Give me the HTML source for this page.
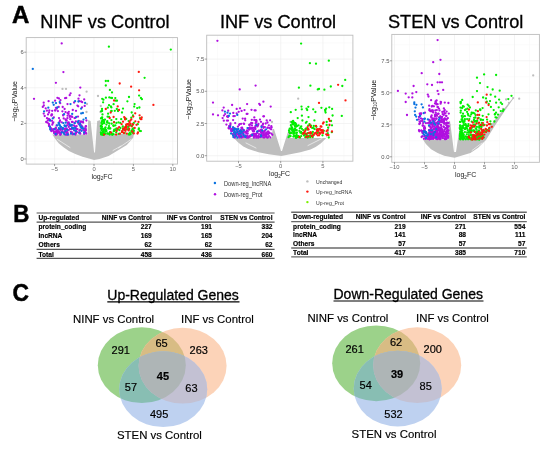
<!DOCTYPE html>
<html><head><meta charset="utf-8"><style>
html,body{margin:0;padding:0;background:#fff;width:550px;height:449px;overflow:hidden}
svg{display:block;font-family:"Liberation Sans", sans-serif;will-change:transform}
</style></head><body>
<svg width="550" height="449" viewBox="0 0 550 449">
<rect width="550" height="449" fill="#fff"/>
<text x="12.00" y="23.20" font-size="24" text-anchor="start" font-weight="bold" fill="#000" stroke="#000" stroke-width="0.5">A</text>
<text x="40.30" y="27.80" font-size="18.2" text-anchor="start" font-weight="normal" fill="#000" stroke="#000" stroke-width="0.3">NINF vs Control</text>
<text x="219.90" y="27.80" font-size="18.2" text-anchor="start" font-weight="normal" fill="#000" stroke="#000" stroke-width="0.3">INF vs Control</text>
<text x="387.90" y="27.80" font-size="18.2" text-anchor="start" font-weight="normal" fill="#000" stroke="#000" stroke-width="0.3">STEN vs Control</text>
<line x1="34.90" y1="37.6" x2="34.90" y2="164.1" stroke="#f6f6f6" stroke-width="0.6"/>
<line x1="74.30" y1="37.6" x2="74.30" y2="164.1" stroke="#f6f6f6" stroke-width="0.6"/>
<line x1="113.70" y1="37.6" x2="113.70" y2="164.1" stroke="#f6f6f6" stroke-width="0.6"/>
<line x1="153.10" y1="37.6" x2="153.10" y2="164.1" stroke="#f6f6f6" stroke-width="0.6"/>
<line x1="26.2" y1="141.20" x2="177.5" y2="141.20" stroke="#f6f6f6" stroke-width="0.6"/>
<line x1="26.2" y1="105.60" x2="177.5" y2="105.60" stroke="#f6f6f6" stroke-width="0.6"/>
<line x1="26.2" y1="70.00" x2="177.5" y2="70.00" stroke="#f6f6f6" stroke-width="0.6"/>
<line x1="54.60" y1="37.6" x2="54.60" y2="164.1" stroke="#efefef" stroke-width="0.7"/>
<line x1="94.00" y1="37.6" x2="94.00" y2="164.1" stroke="#efefef" stroke-width="0.7"/>
<line x1="133.40" y1="37.6" x2="133.40" y2="164.1" stroke="#efefef" stroke-width="0.7"/>
<line x1="172.80" y1="37.6" x2="172.80" y2="164.1" stroke="#efefef" stroke-width="0.7"/>
<line x1="26.2" y1="159.00" x2="177.5" y2="159.00" stroke="#efefef" stroke-width="0.7"/>
<line x1="26.2" y1="123.40" x2="177.5" y2="123.40" stroke="#efefef" stroke-width="0.7"/>
<line x1="26.2" y1="87.80" x2="177.5" y2="87.80" stroke="#efefef" stroke-width="0.7"/>
<line x1="26.2" y1="52.20" x2="177.5" y2="52.20" stroke="#efefef" stroke-width="0.7"/>
<line x1="217.40" y1="35.2" x2="217.40" y2="161.2" stroke="#f6f6f6" stroke-width="0.6"/>
<line x1="259.60" y1="35.2" x2="259.60" y2="161.2" stroke="#f6f6f6" stroke-width="0.6"/>
<line x1="301.80" y1="35.2" x2="301.80" y2="161.2" stroke="#f6f6f6" stroke-width="0.6"/>
<line x1="344.00" y1="35.2" x2="344.00" y2="161.2" stroke="#f6f6f6" stroke-width="0.6"/>
<line x1="206.7" y1="139.60" x2="352.9" y2="139.60" stroke="#f6f6f6" stroke-width="0.6"/>
<line x1="206.7" y1="107.40" x2="352.9" y2="107.40" stroke="#f6f6f6" stroke-width="0.6"/>
<line x1="206.7" y1="75.20" x2="352.9" y2="75.20" stroke="#f6f6f6" stroke-width="0.6"/>
<line x1="206.7" y1="43.00" x2="352.9" y2="43.00" stroke="#f6f6f6" stroke-width="0.6"/>
<line x1="238.50" y1="35.2" x2="238.50" y2="161.2" stroke="#efefef" stroke-width="0.7"/>
<line x1="280.70" y1="35.2" x2="280.70" y2="161.2" stroke="#efefef" stroke-width="0.7"/>
<line x1="322.90" y1="35.2" x2="322.90" y2="161.2" stroke="#efefef" stroke-width="0.7"/>
<line x1="206.7" y1="155.70" x2="352.9" y2="155.70" stroke="#efefef" stroke-width="0.7"/>
<line x1="206.7" y1="123.50" x2="352.9" y2="123.50" stroke="#efefef" stroke-width="0.7"/>
<line x1="206.7" y1="91.30" x2="352.9" y2="91.30" stroke="#efefef" stroke-width="0.7"/>
<line x1="206.7" y1="59.10" x2="352.9" y2="59.10" stroke="#efefef" stroke-width="0.7"/>
<line x1="409.50" y1="34.4" x2="409.50" y2="162.3" stroke="#f6f6f6" stroke-width="0.6"/>
<line x1="439.50" y1="34.4" x2="439.50" y2="162.3" stroke="#f6f6f6" stroke-width="0.6"/>
<line x1="469.50" y1="34.4" x2="469.50" y2="162.3" stroke="#f6f6f6" stroke-width="0.6"/>
<line x1="499.50" y1="34.4" x2="499.50" y2="162.3" stroke="#f6f6f6" stroke-width="0.6"/>
<line x1="529.50" y1="34.4" x2="529.50" y2="162.3" stroke="#f6f6f6" stroke-width="0.6"/>
<line x1="391.8" y1="140.80" x2="539.4" y2="140.80" stroke="#f6f6f6" stroke-width="0.6"/>
<line x1="391.8" y1="108.80" x2="539.4" y2="108.80" stroke="#f6f6f6" stroke-width="0.6"/>
<line x1="391.8" y1="76.80" x2="539.4" y2="76.80" stroke="#f6f6f6" stroke-width="0.6"/>
<line x1="391.8" y1="44.80" x2="539.4" y2="44.80" stroke="#f6f6f6" stroke-width="0.6"/>
<line x1="394.50" y1="34.4" x2="394.50" y2="162.3" stroke="#efefef" stroke-width="0.7"/>
<line x1="424.50" y1="34.4" x2="424.50" y2="162.3" stroke="#efefef" stroke-width="0.7"/>
<line x1="454.50" y1="34.4" x2="454.50" y2="162.3" stroke="#efefef" stroke-width="0.7"/>
<line x1="484.50" y1="34.4" x2="484.50" y2="162.3" stroke="#efefef" stroke-width="0.7"/>
<line x1="514.50" y1="34.4" x2="514.50" y2="162.3" stroke="#efefef" stroke-width="0.7"/>
<line x1="391.8" y1="156.80" x2="539.4" y2="156.80" stroke="#efefef" stroke-width="0.7"/>
<line x1="391.8" y1="124.80" x2="539.4" y2="124.80" stroke="#efefef" stroke-width="0.7"/>
<line x1="391.8" y1="92.80" x2="539.4" y2="92.80" stroke="#efefef" stroke-width="0.7"/>
<line x1="391.8" y1="60.80" x2="539.4" y2="60.80" stroke="#efefef" stroke-width="0.7"/>
<path fill="#bebebe" d="M52.3,134.5 L87.5,134.5 L88.2,120 L90.6,121 L94.1,152.5 L95,152.5 L97.2,121 L100.5,120 L101,134 L134,134 L133.2,137.7 L126.8,145 L117.7,150.5 L108.6,155.9 L99.5,159 L94.1,160 L88.9,158.6 L82.5,156.8 L75.3,154.1 L68.9,150.9 L63.5,147.3 L58.9,143.6 L55.3,139.1 Z"/>
<path fill="#bebebe" d="M232.6,138 L272,138 L272.5,129 L274,129 L281,151 L282,151 L289,128.5 L290.5,128.5 L290.5,138 L326,138 L328,128 L330,122 L328.5,134 L325.8,138.5 L320.7,143.5 L315.6,147 L310.5,149.5 L300.4,152.2 L290.2,154.3 L281.3,156 L268.7,154.2 L258.5,152.2 L248.4,149.1 L243.3,146.6 L238.2,142.4 L234.1,138.3 Z"/>
<path fill="#bebebe" d="M423,139.5 L448.5,139.5 L449,121 L450,121 L454,152 L456,152 L460,125 L461,125 L461,139.5 L479,139.5 L512.5,98.5 L513.5,98.5 L505,110.5 L495,125.5 L486,140 L478.2,147.7 L470.4,152.9 L461.2,155.8 L454.6,157.8 L444.2,155.8 L437.6,153.1 L431.1,149.2 L425.9,144 Z"/>
<g stroke="#fff" stroke-width="0.8" stroke-opacity="0.75" stroke-linecap="round"><line x1="118.5" y1="148" x2="131" y2="139.5"/><line x1="113" y1="150.5" x2="121" y2="146"/><line x1="57.5" y1="139.5" x2="70" y2="147.5"/><line x1="308" y1="145.5" x2="322" y2="138.5"/><line x1="246" y1="143" x2="256" y2="148"/><line x1="472" y1="150.5" x2="482" y2="143"/></g>
<g fill="#bebebe"><circle cx="62.5" cy="88.9" r="1.15"/><circle cx="66.0" cy="88.9" r="1.15"/><circle cx="86.6" cy="91.7" r="1.15"/><circle cx="87.0" cy="104.0" r="1.15"/><circle cx="86.5" cy="112.0" r="1.15"/><circle cx="100.8" cy="106.0" r="1.15"/><circle cx="100.5" cy="112.0" r="1.15"/><circle cx="98.0" cy="96.0" r="1.15"/></g>
<g fill="#b010e0"><circle cx="63.4" cy="72.1" r="1.15"/><circle cx="55.9" cy="82.8" r="1.15"/><circle cx="34.0" cy="98.8" r="1.15"/><circle cx="80.3" cy="87.6" r="1.15"/><circle cx="61.7" cy="43.4" r="1.15"/><circle cx="55.8" cy="128.5" r="1.15"/><circle cx="70.8" cy="131.8" r="1.15"/><circle cx="65.5" cy="119.5" r="1.15"/><circle cx="43.7" cy="113.6" r="1.15"/><circle cx="60.4" cy="100.2" r="1.15"/><circle cx="69.7" cy="95.2" r="1.15"/><circle cx="67.4" cy="118.2" r="1.15"/><circle cx="85.7" cy="132.9" r="1.15"/><circle cx="80.3" cy="122.7" r="1.15"/><circle cx="55.1" cy="100.7" r="1.15"/><circle cx="49.3" cy="110.5" r="1.15"/><circle cx="70.3" cy="119.2" r="1.15"/><circle cx="66.1" cy="132.2" r="1.15"/><circle cx="72.2" cy="116.9" r="1.15"/><circle cx="55.4" cy="110.3" r="1.15"/><circle cx="61.8" cy="122.3" r="1.15"/><circle cx="77.4" cy="105.6" r="1.15"/><circle cx="52.2" cy="110.8" r="1.15"/><circle cx="65.1" cy="98.2" r="1.15"/><circle cx="74.4" cy="122.8" r="1.15"/><circle cx="85.9" cy="129.9" r="1.15"/><circle cx="60.2" cy="103.2" r="1.15"/><circle cx="48.0" cy="114.4" r="1.15"/><circle cx="42.8" cy="106.9" r="1.15"/><circle cx="76.0" cy="110.8" r="1.15"/><circle cx="81.1" cy="121.7" r="1.15"/><circle cx="72.8" cy="110.0" r="1.15"/><circle cx="67.6" cy="115.7" r="1.15"/><circle cx="79.5" cy="95.3" r="1.15"/><circle cx="62.7" cy="107.0" r="1.15"/><circle cx="43.8" cy="105.5" r="1.15"/><circle cx="70.6" cy="93.3" r="1.15"/><circle cx="78.6" cy="122.9" r="1.15"/><circle cx="58.7" cy="106.9" r="1.15"/><circle cx="43.7" cy="102.7" r="1.15"/><circle cx="58.9" cy="98.4" r="1.15"/><circle cx="44.7" cy="116.0" r="1.15"/><circle cx="66.2" cy="97.9" r="1.15"/><circle cx="78.5" cy="98.7" r="1.15"/><circle cx="53.8" cy="117.4" r="1.15"/><circle cx="57.4" cy="97.8" r="1.15"/><circle cx="84.9" cy="128.5" r="1.15"/><circle cx="49.1" cy="125.1" r="1.15"/><circle cx="51.7" cy="114.5" r="1.15"/><circle cx="68.0" cy="123.8" r="1.15"/><circle cx="57.9" cy="111.1" r="1.15"/><circle cx="84.7" cy="105.9" r="1.15"/><circle cx="64.6" cy="109.0" r="1.15"/><circle cx="72.0" cy="132.5" r="1.15"/><circle cx="82.2" cy="102.2" r="1.15"/><circle cx="81.1" cy="101.4" r="1.15"/><circle cx="59.0" cy="118.1" r="1.15"/><circle cx="45.7" cy="108.3" r="1.15"/><circle cx="50.6" cy="128.0" r="1.15"/><circle cx="56.6" cy="132.6" r="1.15"/><circle cx="47.0" cy="118.2" r="1.15"/><circle cx="71.1" cy="133.5" r="1.15"/><circle cx="56.3" cy="131.4" r="1.15"/><circle cx="60.9" cy="133.8" r="1.15"/><circle cx="65.0" cy="129.5" r="1.15"/><circle cx="60.0" cy="132.3" r="1.15"/><circle cx="79.8" cy="133.4" r="1.15"/><circle cx="46.9" cy="110.7" r="1.15"/><circle cx="67.6" cy="133.5" r="1.15"/><circle cx="68.2" cy="134.6" r="1.15"/><circle cx="67.5" cy="104.1" r="1.15"/><circle cx="81.2" cy="125.3" r="1.15"/><circle cx="56.7" cy="131.1" r="1.15"/><circle cx="52.8" cy="123.0" r="1.15"/><circle cx="67.7" cy="122.7" r="1.15"/><circle cx="59.5" cy="132.8" r="1.15"/><circle cx="79.1" cy="101.2" r="1.15"/><circle cx="80.8" cy="121.7" r="1.15"/><circle cx="79.4" cy="124.0" r="1.15"/><circle cx="55.3" cy="129.0" r="1.15"/><circle cx="60.5" cy="134.6" r="1.15"/><circle cx="56.6" cy="125.4" r="1.15"/><circle cx="85.0" cy="130.1" r="1.15"/><circle cx="84.2" cy="99.4" r="1.15"/><circle cx="85.0" cy="131.2" r="1.15"/><circle cx="55.0" cy="132.7" r="1.15"/><circle cx="54.0" cy="133.0" r="1.15"/><circle cx="71.5" cy="116.4" r="1.15"/><circle cx="80.3" cy="129.6" r="1.15"/><circle cx="72.6" cy="121.9" r="1.15"/><circle cx="49.5" cy="126.2" r="1.15"/><circle cx="83.1" cy="122.6" r="1.15"/><circle cx="76.6" cy="129.6" r="1.15"/><circle cx="53.3" cy="122.3" r="1.15"/><circle cx="59.6" cy="121.9" r="1.15"/><circle cx="85.6" cy="130.8" r="1.15"/><circle cx="62.4" cy="111.3" r="1.15"/><circle cx="75.6" cy="133.3" r="1.15"/><circle cx="82.9" cy="121.7" r="1.15"/><circle cx="52.0" cy="120.8" r="1.15"/><circle cx="86.0" cy="126.2" r="1.15"/><circle cx="60.3" cy="128.4" r="1.15"/><circle cx="85.6" cy="126.4" r="1.15"/><circle cx="67.5" cy="113.1" r="1.15"/><circle cx="63.7" cy="118.4" r="1.15"/><circle cx="79.7" cy="132.9" r="1.15"/><circle cx="56.3" cy="132.0" r="1.15"/><circle cx="55.8" cy="127.7" r="1.15"/><circle cx="56.6" cy="130.5" r="1.15"/><circle cx="51.3" cy="115.5" r="1.15"/><circle cx="60.4" cy="129.9" r="1.15"/><circle cx="69.8" cy="116.0" r="1.15"/><circle cx="63.2" cy="114.8" r="1.15"/><circle cx="66.5" cy="128.7" r="1.15"/><circle cx="67.4" cy="134.6" r="1.15"/><circle cx="64.0" cy="133.2" r="1.15"/><circle cx="46.2" cy="122.0" r="1.15"/><circle cx="53.0" cy="129.7" r="1.15"/><circle cx="75.6" cy="128.3" r="1.15"/><circle cx="59.3" cy="129.0" r="1.15"/><circle cx="68.7" cy="122.5" r="1.15"/><circle cx="50.3" cy="128.2" r="1.15"/><circle cx="56.1" cy="132.2" r="1.15"/><circle cx="77.5" cy="129.1" r="1.15"/><circle cx="68.9" cy="123.4" r="1.15"/><circle cx="83.2" cy="130.1" r="1.15"/><circle cx="71.0" cy="129.2" r="1.15"/><circle cx="66.9" cy="125.4" r="1.15"/><circle cx="64.5" cy="128.7" r="1.15"/><circle cx="65.5" cy="112.1" r="1.15"/><circle cx="74.5" cy="118.1" r="1.15"/><circle cx="84.4" cy="132.4" r="1.15"/><circle cx="68.8" cy="111.8" r="1.15"/><circle cx="80.3" cy="133.6" r="1.15"/><circle cx="51.0" cy="130.1" r="1.15"/><circle cx="49.0" cy="125.9" r="1.15"/><circle cx="78.0" cy="116.6" r="1.15"/><circle cx="52.3" cy="124.7" r="1.15"/><circle cx="72.9" cy="133.6" r="1.15"/><circle cx="82.0" cy="107.4" r="1.15"/><circle cx="55.0" cy="110.4" r="1.15"/><circle cx="62.2" cy="129.5" r="1.15"/><circle cx="86.4" cy="120.5" r="1.15"/><circle cx="52.6" cy="130.3" r="1.15"/><circle cx="67.0" cy="131.5" r="1.15"/><circle cx="54.0" cy="131.7" r="1.15"/><circle cx="75.5" cy="134.6" r="1.15"/><circle cx="68.6" cy="130.2" r="1.15"/><circle cx="71.5" cy="129.1" r="1.15"/><circle cx="48.6" cy="101.2" r="1.15"/><circle cx="78.2" cy="106.3" r="1.15"/><circle cx="47.6" cy="122.7" r="1.15"/><circle cx="57.0" cy="133.7" r="1.15"/><circle cx="63.2" cy="115.4" r="1.15"/><circle cx="79.4" cy="132.4" r="1.15"/><circle cx="52.1" cy="114.7" r="1.15"/><circle cx="69.3" cy="125.2" r="1.15"/><circle cx="74.1" cy="130.4" r="1.15"/><circle cx="49.0" cy="112.5" r="1.15"/><circle cx="71.9" cy="121.9" r="1.15"/><circle cx="49.4" cy="119.3" r="1.15"/><circle cx="48.7" cy="118.9" r="1.15"/><circle cx="64.5" cy="131.5" r="1.15"/><circle cx="68.6" cy="113.9" r="1.15"/><circle cx="56.9" cy="133.7" r="1.15"/><circle cx="67.5" cy="132.6" r="1.15"/><circle cx="58.7" cy="131.9" r="1.15"/><circle cx="77.0" cy="132.1" r="1.15"/><circle cx="66.4" cy="133.2" r="1.15"/><circle cx="60.2" cy="134.7" r="1.15"/><circle cx="56.2" cy="134.7" r="1.15"/><circle cx="75.9" cy="128.4" r="1.15"/><circle cx="53.7" cy="129.6" r="1.15"/><circle cx="84.1" cy="133.9" r="1.15"/><circle cx="79.4" cy="130.3" r="1.15"/><circle cx="66.2" cy="120.4" r="1.15"/><circle cx="62.0" cy="129.1" r="1.15"/><circle cx="74.1" cy="102.5" r="1.15"/><circle cx="60.0" cy="120.5" r="1.15"/><circle cx="74.8" cy="126.7" r="1.15"/><circle cx="62.5" cy="131.4" r="1.15"/><circle cx="48.9" cy="124.0" r="1.15"/><circle cx="56.4" cy="133.4" r="1.15"/><circle cx="49.4" cy="120.1" r="1.15"/><circle cx="81.5" cy="125.9" r="1.15"/><circle cx="57.5" cy="132.6" r="1.15"/><circle cx="58.0" cy="129.9" r="1.15"/><circle cx="52.4" cy="130.1" r="1.15"/><circle cx="56.7" cy="108.7" r="1.15"/><circle cx="85.7" cy="128.5" r="1.15"/><circle cx="56.0" cy="107.8" r="1.15"/><circle cx="58.6" cy="131.3" r="1.15"/><circle cx="65.4" cy="129.2" r="1.15"/><circle cx="54.2" cy="129.2" r="1.15"/><circle cx="58.4" cy="132.7" r="1.15"/><circle cx="69.9" cy="128.8" r="1.15"/><circle cx="76.6" cy="126.2" r="1.15"/><circle cx="75.2" cy="117.9" r="1.15"/><circle cx="61.9" cy="131.6" r="1.15"/><circle cx="86.2" cy="133.5" r="1.15"/><circle cx="75.5" cy="126.6" r="1.15"/><circle cx="47.8" cy="120.4" r="1.15"/><circle cx="82.4" cy="126.9" r="1.15"/><circle cx="75.9" cy="121.4" r="1.15"/><circle cx="51.7" cy="128.9" r="1.15"/><circle cx="66.6" cy="120.4" r="1.15"/><circle cx="78.8" cy="120.8" r="1.15"/><circle cx="69.8" cy="116.9" r="1.15"/><circle cx="73.9" cy="125.3" r="1.15"/><circle cx="55.4" cy="134.5" r="1.15"/><circle cx="51.4" cy="131.2" r="1.15"/><circle cx="50.3" cy="120.3" r="1.15"/><circle cx="68.8" cy="126.9" r="1.15"/><circle cx="71.6" cy="125.7" r="1.15"/><circle cx="66.0" cy="134.8" r="1.15"/><circle cx="78.5" cy="123.8" r="1.15"/><circle cx="66.5" cy="128.7" r="1.15"/><circle cx="72.9" cy="134.3" r="1.15"/><circle cx="76.1" cy="132.5" r="1.15"/><circle cx="75.8" cy="133.0" r="1.15"/></g>
<g fill="#0a72e0"><circle cx="32.8" cy="68.9" r="1.15"/><circle cx="75.1" cy="101.2" r="1.15"/><circle cx="64.7" cy="125.5" r="1.15"/><circle cx="64.1" cy="114.2" r="1.15"/><circle cx="76.2" cy="117.0" r="1.15"/><circle cx="71.0" cy="133.5" r="1.15"/><circle cx="50.2" cy="129.4" r="1.15"/><circle cx="75.2" cy="128.0" r="1.15"/><circle cx="67.8" cy="134.4" r="1.15"/><circle cx="72.2" cy="113.9" r="1.15"/><circle cx="72.4" cy="128.4" r="1.15"/><circle cx="65.7" cy="122.7" r="1.15"/><circle cx="63.6" cy="132.8" r="1.15"/><circle cx="81.5" cy="130.9" r="1.15"/><circle cx="85.1" cy="103.0" r="1.15"/><circle cx="78.4" cy="101.5" r="1.15"/><circle cx="62.9" cy="129.0" r="1.15"/><circle cx="52.8" cy="102.6" r="1.15"/><circle cx="52.8" cy="118.4" r="1.15"/><circle cx="50.0" cy="120.5" r="1.15"/><circle cx="84.0" cy="132.5" r="1.15"/><circle cx="78.4" cy="121.1" r="1.15"/><circle cx="81.2" cy="113.4" r="1.15"/><circle cx="53.7" cy="104.8" r="1.15"/><circle cx="64.4" cy="134.3" r="1.15"/><circle cx="62.9" cy="128.0" r="1.15"/><circle cx="49.9" cy="126.8" r="1.15"/><circle cx="57.3" cy="107.5" r="1.15"/><circle cx="44.1" cy="111.4" r="1.15"/><circle cx="79.2" cy="132.7" r="1.15"/><circle cx="82.9" cy="113.0" r="1.15"/><circle cx="81.9" cy="128.4" r="1.15"/><circle cx="59.6" cy="125.2" r="1.15"/><circle cx="85.9" cy="118.1" r="1.15"/><circle cx="59.1" cy="124.0" r="1.15"/><circle cx="55.6" cy="134.0" r="1.15"/><circle cx="48.3" cy="107.7" r="1.15"/><circle cx="56.0" cy="103.1" r="1.15"/><circle cx="54.5" cy="129.1" r="1.15"/><circle cx="65.5" cy="131.1" r="1.15"/><circle cx="59.7" cy="102.1" r="1.15"/><circle cx="81.1" cy="108.7" r="1.15"/><circle cx="70.5" cy="104.1" r="1.15"/><circle cx="83.5" cy="119.6" r="1.15"/><circle cx="74.2" cy="134.0" r="1.15"/><circle cx="74.8" cy="123.2" r="1.15"/><circle cx="76.0" cy="131.2" r="1.15"/><circle cx="74.8" cy="130.3" r="1.15"/><circle cx="73.5" cy="128.2" r="1.15"/><circle cx="71.9" cy="124.9" r="1.15"/><circle cx="61.0" cy="127.0" r="1.15"/><circle cx="59.9" cy="125.7" r="1.15"/><circle cx="58.6" cy="123.0" r="1.15"/><circle cx="81.6" cy="127.8" r="1.15"/><circle cx="80.5" cy="126.8" r="1.15"/><circle cx="79.7" cy="125.0" r="1.15"/><circle cx="77.9" cy="122.2" r="1.15"/><circle cx="67.1" cy="129.8" r="1.15"/><circle cx="65.8" cy="126.5" r="1.15"/><circle cx="64.7" cy="125.8" r="1.15"/><circle cx="63.3" cy="123.1" r="1.15"/><circle cx="61.8" cy="132.5" r="1.15"/><circle cx="59.6" cy="129.2" r="1.15"/><circle cx="58.8" cy="128.1" r="1.15"/><circle cx="57.2" cy="125.4" r="1.15"/><circle cx="83.3" cy="128.5" r="1.15"/><circle cx="81.5" cy="126.7" r="1.15"/><circle cx="80.1" cy="123.9" r="1.15"/><circle cx="73.2" cy="128.8" r="1.15"/><circle cx="72.1" cy="127.7" r="1.15"/><circle cx="70.6" cy="125.8" r="1.15"/><circle cx="69.8" cy="124.4" r="1.15"/></g>
<g fill="#00ee00"><circle cx="105.8" cy="81.0" r="1.15"/><circle cx="108.1" cy="81.0" r="1.15"/><circle cx="105.8" cy="85.5" r="1.15"/><circle cx="109.9" cy="89.9" r="1.15"/><circle cx="112.0" cy="92.4" r="1.15"/><circle cx="129.0" cy="97.0" r="1.15"/><circle cx="139.1" cy="95.6" r="1.15"/><circle cx="140.9" cy="97.9" r="1.15"/><circle cx="102.2" cy="98.8" r="1.15"/><circle cx="108.9" cy="46.7" r="1.15"/><circle cx="170.8" cy="49.6" r="1.15"/><circle cx="144.6" cy="77.8" r="1.15"/><circle cx="127.4" cy="101.3" r="1.15"/><circle cx="120.4" cy="128.0" r="1.15"/><circle cx="111.0" cy="97.8" r="1.15"/><circle cx="129.8" cy="125.4" r="1.15"/><circle cx="101.7" cy="118.0" r="1.15"/><circle cx="128.6" cy="121.1" r="1.15"/><circle cx="111.4" cy="110.9" r="1.15"/><circle cx="138.9" cy="128.3" r="1.15"/><circle cx="102.2" cy="124.2" r="1.15"/><circle cx="118.1" cy="110.3" r="1.15"/><circle cx="109.0" cy="105.2" r="1.15"/><circle cx="131.3" cy="117.7" r="1.15"/><circle cx="109.3" cy="97.4" r="1.15"/><circle cx="113.6" cy="104.2" r="1.15"/><circle cx="110.3" cy="128.4" r="1.15"/><circle cx="132.1" cy="125.8" r="1.15"/><circle cx="140.0" cy="118.1" r="1.15"/><circle cx="108.5" cy="128.4" r="1.15"/><circle cx="118.0" cy="111.0" r="1.15"/><circle cx="139.9" cy="130.9" r="1.15"/><circle cx="117.0" cy="128.7" r="1.15"/><circle cx="140.9" cy="131.1" r="1.15"/><circle cx="102.9" cy="133.5" r="1.15"/><circle cx="117.0" cy="100.7" r="1.15"/><circle cx="137.2" cy="108.1" r="1.15"/><circle cx="141.9" cy="99.2" r="1.15"/><circle cx="114.4" cy="129.7" r="1.15"/><circle cx="139.4" cy="107.5" r="1.15"/><circle cx="102.1" cy="111.0" r="1.15"/><circle cx="116.4" cy="122.9" r="1.15"/><circle cx="114.5" cy="130.2" r="1.15"/><circle cx="100.9" cy="126.4" r="1.15"/><circle cx="115.3" cy="98.1" r="1.15"/><circle cx="105.9" cy="97.7" r="1.15"/><circle cx="109.3" cy="123.5" r="1.15"/><circle cx="134.6" cy="104.1" r="1.15"/><circle cx="118.6" cy="133.8" r="1.15"/><circle cx="120.3" cy="122.9" r="1.15"/><circle cx="138.7" cy="129.4" r="1.15"/><circle cx="115.8" cy="100.7" r="1.15"/><circle cx="102.0" cy="121.5" r="1.15"/><circle cx="134.2" cy="106.6" r="1.15"/><circle cx="102.5" cy="134.1" r="1.15"/><circle cx="103.4" cy="99.7" r="1.15"/><circle cx="111.4" cy="107.4" r="1.15"/><circle cx="137.8" cy="124.2" r="1.15"/><circle cx="112.0" cy="98.0" r="1.15"/><circle cx="126.2" cy="127.0" r="1.15"/><circle cx="130.3" cy="125.0" r="1.15"/><circle cx="112.2" cy="134.8" r="1.15"/><circle cx="122.0" cy="112.5" r="1.15"/><circle cx="116.8" cy="109.0" r="1.15"/><circle cx="100.9" cy="132.4" r="1.15"/><circle cx="110.9" cy="106.5" r="1.15"/><circle cx="131.6" cy="130.4" r="1.15"/><circle cx="104.4" cy="129.7" r="1.15"/><circle cx="111.5" cy="111.1" r="1.15"/><circle cx="103.0" cy="120.2" r="1.15"/><circle cx="121.2" cy="119.2" r="1.15"/><circle cx="122.8" cy="126.4" r="1.15"/><circle cx="106.4" cy="131.3" r="1.15"/><circle cx="107.3" cy="121.1" r="1.15"/><circle cx="101.4" cy="132.8" r="1.15"/><circle cx="121.9" cy="132.2" r="1.15"/><circle cx="101.2" cy="134.5" r="1.15"/><circle cx="113.7" cy="131.3" r="1.15"/><circle cx="133.0" cy="115.5" r="1.15"/><circle cx="133.4" cy="132.0" r="1.15"/><circle cx="101.4" cy="133.9" r="1.15"/><circle cx="111.7" cy="123.7" r="1.15"/><circle cx="110.0" cy="132.4" r="1.15"/><circle cx="109.0" cy="126.1" r="1.15"/><circle cx="118.5" cy="122.4" r="1.15"/><circle cx="126.3" cy="125.0" r="1.15"/><circle cx="101.9" cy="118.3" r="1.15"/><circle cx="105.5" cy="127.3" r="1.15"/><circle cx="107.7" cy="122.7" r="1.15"/><circle cx="103.3" cy="132.2" r="1.15"/><circle cx="104.3" cy="133.3" r="1.15"/><circle cx="128.1" cy="127.0" r="1.15"/><circle cx="106.3" cy="130.3" r="1.15"/><circle cx="133.6" cy="128.4" r="1.15"/><circle cx="104.0" cy="119.9" r="1.15"/><circle cx="101.7" cy="129.0" r="1.15"/><circle cx="124.9" cy="118.3" r="1.15"/><circle cx="129.6" cy="134.4" r="1.15"/><circle cx="105.5" cy="133.7" r="1.15"/><circle cx="103.1" cy="102.3" r="1.15"/><circle cx="114.8" cy="110.8" r="1.15"/><circle cx="107.6" cy="116.7" r="1.15"/><circle cx="110.0" cy="132.1" r="1.15"/><circle cx="123.0" cy="108.6" r="1.15"/><circle cx="101.7" cy="126.6" r="1.15"/><circle cx="116.2" cy="132.6" r="1.15"/><circle cx="107.5" cy="133.4" r="1.15"/><circle cx="103.4" cy="132.2" r="1.15"/><circle cx="115.4" cy="125.3" r="1.15"/><circle cx="103.4" cy="134.7" r="1.15"/><circle cx="106.4" cy="124.6" r="1.15"/><circle cx="103.0" cy="131.4" r="1.15"/><circle cx="103.4" cy="120.5" r="1.15"/><circle cx="113.5" cy="134.2" r="1.15"/><circle cx="101.7" cy="130.3" r="1.15"/><circle cx="113.6" cy="125.6" r="1.15"/><circle cx="101.5" cy="133.2" r="1.15"/><circle cx="119.4" cy="130.1" r="1.15"/><circle cx="105.2" cy="131.5" r="1.15"/><circle cx="131.5" cy="131.4" r="1.15"/><circle cx="114.2" cy="130.8" r="1.15"/><circle cx="109.0" cy="116.8" r="1.15"/><circle cx="133.8" cy="130.7" r="1.15"/><circle cx="103.3" cy="123.1" r="1.15"/><circle cx="103.4" cy="134.7" r="1.15"/><circle cx="128.9" cy="129.8" r="1.15"/><circle cx="125.0" cy="130.1" r="1.15"/><circle cx="128.0" cy="129.2" r="1.15"/><circle cx="102.6" cy="134.7" r="1.15"/><circle cx="113.6" cy="125.6" r="1.15"/><circle cx="129.3" cy="134.0" r="1.15"/><circle cx="116.3" cy="130.6" r="1.15"/><circle cx="111.9" cy="133.4" r="1.15"/><circle cx="105.2" cy="128.2" r="1.15"/><circle cx="130.1" cy="133.8" r="1.15"/><circle cx="111.4" cy="120.1" r="1.15"/><circle cx="132.3" cy="132.8" r="1.15"/><circle cx="102.0" cy="109.0" r="1.15"/><circle cx="132.7" cy="128.9" r="1.15"/><circle cx="101.1" cy="111.3" r="1.15"/><circle cx="108.1" cy="113.7" r="1.15"/><circle cx="116.3" cy="119.1" r="1.15"/><circle cx="102.6" cy="120.9" r="1.15"/><circle cx="103.8" cy="130.1" r="1.15"/><circle cx="126.2" cy="118.9" r="1.15"/><circle cx="103.0" cy="132.6" r="1.15"/><circle cx="108.5" cy="128.2" r="1.15"/><circle cx="108.0" cy="133.6" r="1.15"/><circle cx="104.3" cy="123.2" r="1.15"/><circle cx="128.7" cy="134.4" r="1.15"/><circle cx="114.0" cy="122.1" r="1.15"/><circle cx="101.0" cy="118.4" r="1.15"/><circle cx="101.9" cy="126.6" r="1.15"/><circle cx="113.6" cy="125.9" r="1.15"/><circle cx="105.8" cy="129.9" r="1.15"/><circle cx="114.8" cy="129.8" r="1.15"/><circle cx="117.8" cy="129.5" r="1.15"/><circle cx="109.7" cy="134.6" r="1.15"/><circle cx="116.2" cy="128.7" r="1.15"/><circle cx="104.1" cy="121.8" r="1.15"/><circle cx="123.1" cy="129.3" r="1.15"/><circle cx="102.9" cy="129.0" r="1.15"/><circle cx="101.7" cy="133.6" r="1.15"/><circle cx="109.4" cy="133.9" r="1.15"/><circle cx="109.8" cy="128.4" r="1.15"/><circle cx="101.0" cy="125.7" r="1.15"/><circle cx="101.4" cy="122.9" r="1.15"/><circle cx="123.0" cy="128.4" r="1.15"/><circle cx="101.1" cy="128.5" r="1.15"/><circle cx="107.8" cy="107.7" r="1.15"/><circle cx="102.2" cy="117.3" r="1.15"/><circle cx="133.8" cy="122.9" r="1.15"/><circle cx="124.7" cy="132.9" r="1.15"/><circle cx="133.0" cy="128.7" r="1.15"/><circle cx="131.7" cy="112.5" r="1.15"/><circle cx="102.7" cy="120.8" r="1.15"/><circle cx="130.4" cy="134.2" r="1.15"/><circle cx="107.0" cy="122.1" r="1.15"/><circle cx="102.5" cy="114.4" r="1.15"/><circle cx="105.0" cy="119.6" r="1.15"/><circle cx="102.3" cy="128.5" r="1.15"/><circle cx="129.8" cy="132.7" r="1.15"/></g>
<g fill="#ff1a10"><circle cx="138.8" cy="71.9" r="1.15"/><circle cx="119.7" cy="83.5" r="1.15"/><circle cx="131.1" cy="86.7" r="1.15"/><circle cx="139.1" cy="90.3" r="1.15"/><circle cx="153.4" cy="104.9" r="1.15"/><circle cx="114.0" cy="122.3" r="1.15"/><circle cx="116.1" cy="134.6" r="1.15"/><circle cx="110.9" cy="132.5" r="1.15"/><circle cx="139.6" cy="115.3" r="1.15"/><circle cx="138.0" cy="132.4" r="1.15"/><circle cx="133.8" cy="133.4" r="1.15"/><circle cx="124.2" cy="117.1" r="1.15"/><circle cx="117.7" cy="106.4" r="1.15"/><circle cx="125.1" cy="119.4" r="1.15"/><circle cx="137.5" cy="133.6" r="1.15"/><circle cx="141.7" cy="117.4" r="1.15"/><circle cx="119.0" cy="110.0" r="1.15"/><circle cx="114.1" cy="100.5" r="1.15"/><circle cx="125.9" cy="127.3" r="1.15"/><circle cx="133.1" cy="124.6" r="1.15"/><circle cx="110.7" cy="112.5" r="1.15"/><circle cx="105.8" cy="109.0" r="1.15"/><circle cx="113.6" cy="117.0" r="1.15"/><circle cx="141.4" cy="119.2" r="1.15"/><circle cx="129.2" cy="128.7" r="1.15"/><circle cx="104.1" cy="134.6" r="1.15"/><circle cx="109.7" cy="118.0" r="1.15"/><circle cx="123.9" cy="133.0" r="1.15"/><circle cx="125.5" cy="130.8" r="1.15"/><circle cx="126.3" cy="129.1" r="1.15"/><circle cx="129.2" cy="125.6" r="1.15"/><circle cx="130.2" cy="123.6" r="1.15"/><circle cx="132.2" cy="131.5" r="1.15"/><circle cx="134.7" cy="127.9" r="1.15"/><circle cx="136.5" cy="124.8" r="1.15"/><circle cx="138.5" cy="121.9" r="1.15"/><circle cx="140.5" cy="119.1" r="1.15"/><circle cx="119.9" cy="133.7" r="1.15"/><circle cx="122.1" cy="131.2" r="1.15"/><circle cx="123.3" cy="128.7" r="1.15"/><circle cx="125.1" cy="127.2" r="1.15"/><circle cx="126.5" cy="124.3" r="1.15"/><circle cx="116.6" cy="131.0" r="1.15"/><circle cx="117.6" cy="128.6" r="1.15"/><circle cx="119.1" cy="127.2" r="1.15"/><circle cx="121.6" cy="124.2" r="1.15"/><circle cx="123.0" cy="121.7" r="1.15"/><circle cx="125.2" cy="118.4" r="1.15"/><circle cx="122.2" cy="131.7" r="1.15"/><circle cx="123.5" cy="129.4" r="1.15"/><circle cx="126.2" cy="126.7" r="1.15"/><circle cx="127.8" cy="124.1" r="1.15"/><circle cx="129.4" cy="122.1" r="1.15"/><circle cx="131.3" cy="119.4" r="1.15"/><circle cx="133.3" cy="116.6" r="1.15"/><circle cx="135.2" cy="113.3" r="1.15"/><circle cx="122.2" cy="132.0" r="1.15"/><circle cx="124.1" cy="129.7" r="1.15"/><circle cx="124.7" cy="128.5" r="1.15"/><circle cx="126.4" cy="125.4" r="1.15"/><circle cx="128.2" cy="124.1" r="1.15"/><circle cx="130.3" cy="120.6" r="1.15"/><circle cx="126.8" cy="133.6" r="1.15"/><circle cx="128.5" cy="130.3" r="1.15"/><circle cx="131.6" cy="126.3" r="1.15"/><circle cx="132.4" cy="124.1" r="1.15"/><circle cx="135.3" cy="121.3" r="1.15"/></g>
<g fill="#bebebe"><circle cx="298.2" cy="98.7" r="1.15"/><circle cx="272.0" cy="122.0" r="1.15"/><circle cx="290.5" cy="122.0" r="1.15"/></g>
<g fill="#b010e0"><circle cx="255.6" cy="85.6" r="1.15"/><circle cx="239.7" cy="89.4" r="1.15"/><circle cx="213.0" cy="102.6" r="1.15"/><circle cx="247.1" cy="104.1" r="1.15"/><circle cx="263.4" cy="101.7" r="1.15"/><circle cx="260.0" cy="104.9" r="1.15"/><circle cx="213.0" cy="114.4" r="1.15"/><circle cx="218.0" cy="115.3" r="1.15"/><circle cx="251.5" cy="109.8" r="1.15"/><circle cx="240.0" cy="108.3" r="1.15"/><circle cx="217.4" cy="40.8" r="1.15"/><circle cx="252.1" cy="127.8" r="1.15"/><circle cx="258.9" cy="130.7" r="1.15"/><circle cx="235.2" cy="123.1" r="1.15"/><circle cx="233.3" cy="112.9" r="1.15"/><circle cx="237.9" cy="126.6" r="1.15"/><circle cx="270.1" cy="120.3" r="1.15"/><circle cx="264.0" cy="116.3" r="1.15"/><circle cx="241.6" cy="110.9" r="1.15"/><circle cx="236.7" cy="113.3" r="1.15"/><circle cx="247.0" cy="130.3" r="1.15"/><circle cx="264.6" cy="134.6" r="1.15"/><circle cx="262.3" cy="131.9" r="1.15"/><circle cx="259.2" cy="103.8" r="1.15"/><circle cx="244.5" cy="110.1" r="1.15"/><circle cx="228.0" cy="120.6" r="1.15"/><circle cx="236.7" cy="108.9" r="1.15"/><circle cx="232.1" cy="105.0" r="1.15"/><circle cx="233.3" cy="130.3" r="1.15"/><circle cx="255.8" cy="120.5" r="1.15"/><circle cx="223.9" cy="115.6" r="1.15"/><circle cx="222.4" cy="110.4" r="1.15"/><circle cx="255.6" cy="110.4" r="1.15"/><circle cx="251.9" cy="125.4" r="1.15"/><circle cx="239.7" cy="124.1" r="1.15"/><circle cx="266.1" cy="134.8" r="1.15"/><circle cx="266.0" cy="136.9" r="1.15"/><circle cx="229.1" cy="128.6" r="1.15"/><circle cx="266.7" cy="120.4" r="1.15"/><circle cx="241.1" cy="123.8" r="1.15"/><circle cx="233.8" cy="133.8" r="1.15"/><circle cx="248.8" cy="128.7" r="1.15"/><circle cx="260.0" cy="131.0" r="1.15"/><circle cx="239.6" cy="135.2" r="1.15"/><circle cx="229.8" cy="125.8" r="1.15"/><circle cx="255.4" cy="129.0" r="1.15"/><circle cx="261.0" cy="132.2" r="1.15"/><circle cx="266.6" cy="136.0" r="1.15"/><circle cx="257.4" cy="125.7" r="1.15"/><circle cx="234.5" cy="135.2" r="1.15"/><circle cx="248.3" cy="136.7" r="1.15"/><circle cx="238.5" cy="136.4" r="1.15"/><circle cx="271.1" cy="129.3" r="1.15"/><circle cx="227.1" cy="116.5" r="1.15"/><circle cx="271.6" cy="127.5" r="1.15"/><circle cx="259.0" cy="134.1" r="1.15"/><circle cx="231.9" cy="131.2" r="1.15"/><circle cx="241.6" cy="137.6" r="1.15"/><circle cx="242.1" cy="127.6" r="1.15"/><circle cx="256.9" cy="133.3" r="1.15"/><circle cx="253.9" cy="133.8" r="1.15"/><circle cx="242.4" cy="129.0" r="1.15"/><circle cx="267.8" cy="134.1" r="1.15"/><circle cx="250.9" cy="128.8" r="1.15"/><circle cx="243.2" cy="136.1" r="1.15"/><circle cx="258.4" cy="124.0" r="1.15"/><circle cx="261.0" cy="130.0" r="1.15"/><circle cx="265.0" cy="130.4" r="1.15"/><circle cx="254.3" cy="133.9" r="1.15"/><circle cx="237.8" cy="131.4" r="1.15"/><circle cx="261.4" cy="129.7" r="1.15"/><circle cx="253.7" cy="135.9" r="1.15"/><circle cx="243.3" cy="133.9" r="1.15"/><circle cx="253.3" cy="134.4" r="1.15"/><circle cx="256.0" cy="120.5" r="1.15"/><circle cx="231.2" cy="130.9" r="1.15"/><circle cx="261.2" cy="134.6" r="1.15"/><circle cx="246.7" cy="113.9" r="1.15"/><circle cx="230.1" cy="127.9" r="1.15"/><circle cx="269.4" cy="133.0" r="1.15"/><circle cx="249.3" cy="129.6" r="1.15"/><circle cx="247.8" cy="131.2" r="1.15"/><circle cx="263.8" cy="133.0" r="1.15"/><circle cx="242.7" cy="118.6" r="1.15"/><circle cx="232.6" cy="130.3" r="1.15"/><circle cx="241.8" cy="128.5" r="1.15"/><circle cx="228.2" cy="110.7" r="1.15"/><circle cx="239.9" cy="137.4" r="1.15"/><circle cx="235.8" cy="134.5" r="1.15"/><circle cx="243.2" cy="130.0" r="1.15"/><circle cx="239.7" cy="135.8" r="1.15"/><circle cx="233.3" cy="129.0" r="1.15"/><circle cx="269.4" cy="132.9" r="1.15"/><circle cx="233.0" cy="127.3" r="1.15"/><circle cx="241.8" cy="136.3" r="1.15"/><circle cx="228.5" cy="128.1" r="1.15"/><circle cx="262.8" cy="131.3" r="1.15"/><circle cx="245.6" cy="132.4" r="1.15"/><circle cx="233.4" cy="116.2" r="1.15"/><circle cx="239.8" cy="131.2" r="1.15"/><circle cx="263.3" cy="126.8" r="1.15"/><circle cx="245.6" cy="135.5" r="1.15"/><circle cx="249.6" cy="136.9" r="1.15"/><circle cx="264.0" cy="135.0" r="1.15"/><circle cx="264.9" cy="135.8" r="1.15"/><circle cx="241.0" cy="135.9" r="1.15"/><circle cx="243.5" cy="136.5" r="1.15"/><circle cx="236.2" cy="136.0" r="1.15"/><circle cx="237.2" cy="133.6" r="1.15"/><circle cx="243.6" cy="131.2" r="1.15"/><circle cx="255.2" cy="134.9" r="1.15"/><circle cx="268.8" cy="125.3" r="1.15"/><circle cx="267.7" cy="127.8" r="1.15"/><circle cx="229.1" cy="126.2" r="1.15"/><circle cx="253.9" cy="137.7" r="1.15"/><circle cx="222.6" cy="118.1" r="1.15"/><circle cx="255.1" cy="135.9" r="1.15"/><circle cx="233.8" cy="128.1" r="1.15"/><circle cx="239.5" cy="136.7" r="1.15"/><circle cx="267.6" cy="127.6" r="1.15"/><circle cx="230.5" cy="123.4" r="1.15"/><circle cx="252.7" cy="127.9" r="1.15"/><circle cx="255.7" cy="123.2" r="1.15"/><circle cx="261.7" cy="125.9" r="1.15"/><circle cx="231.9" cy="130.1" r="1.15"/><circle cx="248.8" cy="129.0" r="1.15"/><circle cx="244.1" cy="123.9" r="1.15"/><circle cx="250.0" cy="135.8" r="1.15"/><circle cx="233.8" cy="136.8" r="1.15"/><circle cx="246.9" cy="137.4" r="1.15"/><circle cx="245.5" cy="136.8" r="1.15"/><circle cx="246.8" cy="133.3" r="1.15"/><circle cx="249.2" cy="124.9" r="1.15"/><circle cx="245.6" cy="132.4" r="1.15"/><circle cx="255.5" cy="125.9" r="1.15"/><circle cx="240.9" cy="134.3" r="1.15"/><circle cx="270.4" cy="137.3" r="1.15"/><circle cx="254.1" cy="131.2" r="1.15"/><circle cx="256.4" cy="120.4" r="1.15"/><circle cx="238.7" cy="111.8" r="1.15"/><circle cx="247.7" cy="133.5" r="1.15"/><circle cx="267.2" cy="137.6" r="1.15"/><circle cx="258.2" cy="131.4" r="1.15"/><circle cx="239.1" cy="124.9" r="1.15"/><circle cx="240.5" cy="133.6" r="1.15"/><circle cx="248.5" cy="128.2" r="1.15"/><circle cx="232.6" cy="134.1" r="1.15"/><circle cx="243.3" cy="132.6" r="1.15"/><circle cx="263.7" cy="135.5" r="1.15"/><circle cx="263.7" cy="134.4" r="1.15"/><circle cx="247.4" cy="135.7" r="1.15"/><circle cx="247.5" cy="113.8" r="1.15"/><circle cx="255.0" cy="127.6" r="1.15"/><circle cx="238.7" cy="135.3" r="1.15"/><circle cx="237.1" cy="132.1" r="1.15"/><circle cx="254.0" cy="127.8" r="1.15"/><circle cx="266.6" cy="132.7" r="1.15"/><circle cx="268.4" cy="131.7" r="1.15"/><circle cx="255.2" cy="127.7" r="1.15"/><circle cx="267.9" cy="131.7" r="1.15"/><circle cx="253.1" cy="131.4" r="1.15"/><circle cx="257.1" cy="131.9" r="1.15"/><circle cx="256.3" cy="136.2" r="1.15"/><circle cx="255.6" cy="133.8" r="1.15"/><circle cx="260.4" cy="137.1" r="1.15"/><circle cx="261.0" cy="121.8" r="1.15"/><circle cx="255.0" cy="134.8" r="1.15"/><circle cx="263.5" cy="127.8" r="1.15"/><circle cx="250.3" cy="135.9" r="1.15"/><circle cx="237.2" cy="134.2" r="1.15"/><circle cx="238.1" cy="134.1" r="1.15"/><circle cx="254.3" cy="120.1" r="1.15"/><circle cx="262.8" cy="132.2" r="1.15"/><circle cx="268.3" cy="134.0" r="1.15"/><circle cx="251.8" cy="119.8" r="1.15"/><circle cx="271.4" cy="133.6" r="1.15"/><circle cx="242.8" cy="137.1" r="1.15"/><circle cx="254.5" cy="136.2" r="1.15"/><circle cx="228.1" cy="115.8" r="1.15"/><circle cx="226.4" cy="124.6" r="1.15"/><circle cx="258.3" cy="136.0" r="1.15"/><circle cx="259.0" cy="136.5" r="1.15"/><circle cx="258.0" cy="125.2" r="1.15"/><circle cx="258.8" cy="137.2" r="1.15"/><circle cx="253.7" cy="129.8" r="1.15"/><circle cx="245.2" cy="120.3" r="1.15"/><circle cx="234.8" cy="116.1" r="1.15"/><circle cx="258.1" cy="137.7" r="1.15"/><circle cx="263.2" cy="137.3" r="1.15"/><circle cx="237.7" cy="129.3" r="1.15"/><circle cx="230.4" cy="125.0" r="1.15"/><circle cx="246.5" cy="137.4" r="1.15"/><circle cx="240.5" cy="132.2" r="1.15"/><circle cx="244.1" cy="130.5" r="1.15"/><circle cx="229.3" cy="127.4" r="1.15"/><circle cx="240.3" cy="131.1" r="1.15"/><circle cx="253.7" cy="134.3" r="1.15"/><circle cx="241.4" cy="127.8" r="1.15"/><circle cx="269.6" cy="127.8" r="1.15"/><circle cx="250.6" cy="135.6" r="1.15"/><circle cx="225.1" cy="114.1" r="1.15"/><circle cx="257.4" cy="126.4" r="1.15"/><circle cx="238.7" cy="131.7" r="1.15"/><circle cx="271.3" cy="126.2" r="1.15"/><circle cx="252.3" cy="135.4" r="1.15"/><circle cx="243.6" cy="123.6" r="1.15"/><circle cx="241.0" cy="130.3" r="1.15"/><circle cx="252.3" cy="123.1" r="1.15"/><circle cx="262.7" cy="135.6" r="1.15"/><circle cx="243.3" cy="132.1" r="1.15"/><circle cx="263.1" cy="123.6" r="1.15"/><circle cx="262.9" cy="124.7" r="1.15"/><circle cx="250.8" cy="135.7" r="1.15"/><circle cx="264.9" cy="127.1" r="1.15"/><circle cx="256.5" cy="121.9" r="1.15"/><circle cx="239.5" cy="137.2" r="1.15"/><circle cx="249.9" cy="127.4" r="1.15"/><circle cx="232.1" cy="128.8" r="1.15"/><circle cx="269.0" cy="136.1" r="1.15"/><circle cx="252.6" cy="130.4" r="1.15"/><circle cx="245.5" cy="136.3" r="1.15"/><circle cx="234.8" cy="128.8" r="1.15"/><circle cx="261.9" cy="133.8" r="1.15"/><circle cx="260.9" cy="136.1" r="1.15"/><circle cx="251.2" cy="123.0" r="1.15"/><circle cx="266.6" cy="133.0" r="1.15"/><circle cx="246.0" cy="132.0" r="1.15"/><circle cx="231.1" cy="130.0" r="1.15"/><circle cx="240.3" cy="132.4" r="1.15"/><circle cx="242.3" cy="133.1" r="1.15"/><circle cx="272.3" cy="134.8" r="1.15"/><circle cx="261.7" cy="136.7" r="1.15"/><circle cx="252.1" cy="135.1" r="1.15"/><circle cx="248.2" cy="137.7" r="1.15"/><circle cx="223.7" cy="107.6" r="1.15"/><circle cx="265.7" cy="133.5" r="1.15"/><circle cx="250.6" cy="135.8" r="1.15"/><circle cx="261.3" cy="134.2" r="1.15"/><circle cx="269.7" cy="128.3" r="1.15"/><circle cx="263.3" cy="116.3" r="1.15"/><circle cx="234.8" cy="137.5" r="1.15"/><circle cx="250.1" cy="124.5" r="1.15"/><circle cx="245.1" cy="118.7" r="1.15"/><circle cx="267.9" cy="137.4" r="1.15"/><circle cx="252.1" cy="134.5" r="1.15"/><circle cx="228.0" cy="117.0" r="1.15"/><circle cx="235.0" cy="132.4" r="1.15"/><circle cx="254.3" cy="117.4" r="1.15"/><circle cx="255.8" cy="134.6" r="1.15"/><circle cx="244.6" cy="136.7" r="1.15"/><circle cx="270.7" cy="106.6" r="1.15"/><circle cx="234.9" cy="135.0" r="1.15"/><circle cx="267.5" cy="122.5" r="1.15"/><circle cx="264.2" cy="137.5" r="1.15"/><circle cx="261.6" cy="129.8" r="1.15"/><circle cx="254.6" cy="110.3" r="1.15"/><circle cx="260.0" cy="119.6" r="1.15"/><circle cx="256.1" cy="135.5" r="1.15"/><circle cx="251.8" cy="128.6" r="1.15"/><circle cx="235.0" cy="136.9" r="1.15"/><circle cx="246.3" cy="136.6" r="1.15"/><circle cx="234.0" cy="136.8" r="1.15"/><circle cx="256.2" cy="137.7" r="1.15"/><circle cx="258.1" cy="136.4" r="1.15"/><circle cx="223.8" cy="120.7" r="1.15"/><circle cx="233.1" cy="120.1" r="1.15"/><circle cx="265.7" cy="123.5" r="1.15"/><circle cx="226.9" cy="120.6" r="1.15"/><circle cx="264.4" cy="131.4" r="1.15"/></g>
<g fill="#0a72e0"><circle cx="224.9" cy="111.7" r="1.15"/><circle cx="230.0" cy="113.6" r="1.15"/><circle cx="243.7" cy="130.5" r="1.15"/><circle cx="261.5" cy="127.0" r="1.15"/><circle cx="252.2" cy="135.0" r="1.15"/><circle cx="256.3" cy="125.0" r="1.15"/><circle cx="228.9" cy="115.9" r="1.15"/><circle cx="234.8" cy="128.7" r="1.15"/><circle cx="262.3" cy="130.6" r="1.15"/><circle cx="230.1" cy="126.6" r="1.15"/><circle cx="237.3" cy="114.9" r="1.15"/><circle cx="227.5" cy="112.7" r="1.15"/><circle cx="233.5" cy="137.2" r="1.15"/><circle cx="233.1" cy="135.5" r="1.15"/><circle cx="231.1" cy="133.5" r="1.15"/><circle cx="240.6" cy="133.4" r="1.15"/><circle cx="239.7" cy="131.2" r="1.15"/><circle cx="238.3" cy="129.0" r="1.15"/><circle cx="238.9" cy="133.7" r="1.15"/><circle cx="237.5" cy="131.8" r="1.15"/><circle cx="236.7" cy="130.0" r="1.15"/><circle cx="235.9" cy="128.8" r="1.15"/><circle cx="235.9" cy="132.8" r="1.15"/><circle cx="234.8" cy="131.2" r="1.15"/><circle cx="234.3" cy="129.6" r="1.15"/><circle cx="233.1" cy="127.4" r="1.15"/><circle cx="237.4" cy="137.7" r="1.15"/><circle cx="236.2" cy="136.2" r="1.15"/><circle cx="235.2" cy="134.1" r="1.15"/><circle cx="233.9" cy="132.3" r="1.15"/><circle cx="233.3" cy="130.2" r="1.15"/><circle cx="245.3" cy="136.9" r="1.15"/><circle cx="243.7" cy="135.2" r="1.15"/><circle cx="243.3" cy="134.1" r="1.15"/><circle cx="241.9" cy="131.9" r="1.15"/><circle cx="240.4" cy="130.4" r="1.15"/><circle cx="245.5" cy="136.3" r="1.15"/><circle cx="247.5" cy="128.1" r="1.15"/><circle cx="240.9" cy="136.4" r="1.15"/><circle cx="261.0" cy="135.3" r="1.15"/><circle cx="240.5" cy="130.6" r="1.15"/><circle cx="257.3" cy="131.5" r="1.15"/><circle cx="261.1" cy="136.3" r="1.15"/><circle cx="266.1" cy="129.3" r="1.15"/></g>
<g fill="#00ee00"><circle cx="301.1" cy="43.6" r="1.15"/><circle cx="309.9" cy="63.2" r="1.15"/><circle cx="316.0" cy="63.7" r="1.15"/><circle cx="328.8" cy="60.7" r="1.15"/><circle cx="345.2" cy="79.9" r="1.15"/><circle cx="342.3" cy="86.0" r="1.15"/><circle cx="298.9" cy="87.7" r="1.15"/><circle cx="310.4" cy="85.7" r="1.15"/><circle cx="317.8" cy="89.4" r="1.15"/><circle cx="319.0" cy="88.9" r="1.15"/><circle cx="324.4" cy="89.7" r="1.15"/><circle cx="330.8" cy="86.5" r="1.15"/><circle cx="321.4" cy="107.8" r="1.15"/><circle cx="329.3" cy="107.3" r="1.15"/><circle cx="341.8" cy="115.9" r="1.15"/><circle cx="290.8" cy="112.2" r="1.15"/><circle cx="295.7" cy="109.8" r="1.15"/><circle cx="301.8" cy="109.3" r="1.15"/><circle cx="307.2" cy="110.0" r="1.15"/><circle cx="290.6" cy="136.1" r="1.15"/><circle cx="311.0" cy="125.7" r="1.15"/><circle cx="301.2" cy="136.1" r="1.15"/><circle cx="307.0" cy="135.8" r="1.15"/><circle cx="315.4" cy="112.0" r="1.15"/><circle cx="295.2" cy="123.2" r="1.15"/><circle cx="322.5" cy="135.3" r="1.15"/><circle cx="326.1" cy="108.7" r="1.15"/><circle cx="306.2" cy="128.3" r="1.15"/><circle cx="326.7" cy="124.9" r="1.15"/><circle cx="306.5" cy="108.6" r="1.15"/><circle cx="323.8" cy="130.8" r="1.15"/><circle cx="299.4" cy="130.9" r="1.15"/><circle cx="308.3" cy="106.8" r="1.15"/><circle cx="325.1" cy="109.8" r="1.15"/><circle cx="325.6" cy="112.6" r="1.15"/><circle cx="290.9" cy="125.2" r="1.15"/><circle cx="332.1" cy="108.9" r="1.15"/><circle cx="299.8" cy="128.3" r="1.15"/><circle cx="317.3" cy="130.1" r="1.15"/><circle cx="312.7" cy="137.0" r="1.15"/><circle cx="308.2" cy="125.6" r="1.15"/><circle cx="289.4" cy="135.8" r="1.15"/><circle cx="332.6" cy="115.5" r="1.15"/><circle cx="331.1" cy="121.0" r="1.15"/><circle cx="325.3" cy="111.0" r="1.15"/><circle cx="328.8" cy="137.5" r="1.15"/><circle cx="317.7" cy="132.8" r="1.15"/><circle cx="319.4" cy="132.6" r="1.15"/><circle cx="313.2" cy="109.3" r="1.15"/><circle cx="316.8" cy="133.2" r="1.15"/><circle cx="312.2" cy="127.9" r="1.15"/><circle cx="331.8" cy="132.2" r="1.15"/><circle cx="302.4" cy="120.5" r="1.15"/><circle cx="294.0" cy="122.5" r="1.15"/><circle cx="332.0" cy="125.3" r="1.15"/><circle cx="300.7" cy="126.9" r="1.15"/><circle cx="312.8" cy="135.6" r="1.15"/><circle cx="294.1" cy="135.9" r="1.15"/><circle cx="301.9" cy="128.8" r="1.15"/><circle cx="301.6" cy="133.4" r="1.15"/><circle cx="292.5" cy="124.2" r="1.15"/><circle cx="326.7" cy="121.9" r="1.15"/><circle cx="314.4" cy="120.4" r="1.15"/><circle cx="297.7" cy="118.1" r="1.15"/><circle cx="309.5" cy="124.1" r="1.15"/><circle cx="316.4" cy="126.8" r="1.15"/><circle cx="302.6" cy="133.4" r="1.15"/><circle cx="298.6" cy="125.3" r="1.15"/><circle cx="305.9" cy="122.8" r="1.15"/><circle cx="289.0" cy="130.4" r="1.15"/><circle cx="327.7" cy="133.5" r="1.15"/><circle cx="313.8" cy="126.0" r="1.15"/><circle cx="301.5" cy="106.6" r="1.15"/><circle cx="301.9" cy="115.7" r="1.15"/><circle cx="295.7" cy="137.1" r="1.15"/><circle cx="328.1" cy="127.7" r="1.15"/><circle cx="291.3" cy="129.4" r="1.15"/><circle cx="308.5" cy="117.1" r="1.15"/><circle cx="293.5" cy="133.9" r="1.15"/><circle cx="296.7" cy="125.8" r="1.15"/><circle cx="289.8" cy="132.7" r="1.15"/><circle cx="291.5" cy="126.9" r="1.15"/><circle cx="293.7" cy="123.8" r="1.15"/><circle cx="295.5" cy="129.7" r="1.15"/><circle cx="294.8" cy="125.7" r="1.15"/><circle cx="295.0" cy="130.4" r="1.15"/><circle cx="295.2" cy="126.3" r="1.15"/><circle cx="296.3" cy="136.1" r="1.15"/><circle cx="295.9" cy="137.8" r="1.15"/><circle cx="295.0" cy="128.5" r="1.15"/><circle cx="292.7" cy="121.7" r="1.15"/><circle cx="293.4" cy="131.4" r="1.15"/><circle cx="295.2" cy="123.3" r="1.15"/><circle cx="293.7" cy="132.0" r="1.15"/><circle cx="292.3" cy="130.7" r="1.15"/><circle cx="294.6" cy="133.4" r="1.15"/><circle cx="291.8" cy="129.0" r="1.15"/><circle cx="291.8" cy="133.0" r="1.15"/><circle cx="295.2" cy="123.8" r="1.15"/><circle cx="292.7" cy="130.9" r="1.15"/><circle cx="290.1" cy="133.3" r="1.15"/><circle cx="289.7" cy="128.7" r="1.15"/><circle cx="293.4" cy="136.6" r="1.15"/><circle cx="296.3" cy="132.9" r="1.15"/><circle cx="295.7" cy="124.0" r="1.15"/><circle cx="296.6" cy="134.9" r="1.15"/><circle cx="292.1" cy="122.6" r="1.15"/><circle cx="288.6" cy="137.2" r="1.15"/><circle cx="293.3" cy="130.0" r="1.15"/><circle cx="296.3" cy="125.1" r="1.15"/><circle cx="293.1" cy="121.0" r="1.15"/><circle cx="292.9" cy="129.7" r="1.15"/><circle cx="294.3" cy="131.8" r="1.15"/><circle cx="291.5" cy="128.3" r="1.15"/><circle cx="291.5" cy="122.0" r="1.15"/><circle cx="294.3" cy="129.5" r="1.15"/><circle cx="289.3" cy="132.1" r="1.15"/><circle cx="291.9" cy="128.9" r="1.15"/><circle cx="293.4" cy="123.2" r="1.15"/><circle cx="296.7" cy="130.2" r="1.15"/><circle cx="292.2" cy="127.8" r="1.15"/><circle cx="297.0" cy="132.6" r="1.15"/><circle cx="293.0" cy="124.4" r="1.15"/><circle cx="290.0" cy="133.0" r="1.15"/><circle cx="314.6" cy="129.1" r="1.15"/><circle cx="305.3" cy="137.2" r="1.15"/><circle cx="312.9" cy="131.9" r="1.15"/><circle cx="312.8" cy="135.1" r="1.15"/><circle cx="298.1" cy="136.1" r="1.15"/><circle cx="305.2" cy="134.3" r="1.15"/><circle cx="298.8" cy="136.8" r="1.15"/><circle cx="307.6" cy="133.2" r="1.15"/><circle cx="307.7" cy="137.6" r="1.15"/><circle cx="303.2" cy="130.1" r="1.15"/><circle cx="301.1" cy="131.9" r="1.15"/><circle cx="295.1" cy="136.0" r="1.15"/><circle cx="311.8" cy="133.4" r="1.15"/><circle cx="308.4" cy="136.7" r="1.15"/><circle cx="305.0" cy="133.8" r="1.15"/><circle cx="300.3" cy="132.6" r="1.15"/><circle cx="306.5" cy="135.2" r="1.15"/><circle cx="297.4" cy="136.9" r="1.15"/><circle cx="310.2" cy="137.2" r="1.15"/><circle cx="297.0" cy="136.9" r="1.15"/><circle cx="305.4" cy="129.1" r="1.15"/><circle cx="307.3" cy="129.6" r="1.15"/><circle cx="296.2" cy="137.7" r="1.15"/><circle cx="310.4" cy="135.9" r="1.15"/><circle cx="309.3" cy="135.6" r="1.15"/><circle cx="298.4" cy="136.2" r="1.15"/><circle cx="297.0" cy="126.1" r="1.15"/><circle cx="306.6" cy="135.7" r="1.15"/><circle cx="304.0" cy="135.4" r="1.15"/><circle cx="296.1" cy="126.7" r="1.15"/><circle cx="306.7" cy="121.8" r="1.15"/><circle cx="303.8" cy="133.0" r="1.15"/><circle cx="300.0" cy="137.6" r="1.15"/><circle cx="313.6" cy="128.2" r="1.15"/><circle cx="301.3" cy="126.3" r="1.15"/></g>
<g fill="#ff1a10"><circle cx="338.1" cy="84.8" r="1.15"/><circle cx="319.0" cy="102.9" r="1.15"/><circle cx="345.5" cy="100.4" r="1.15"/><circle cx="326.6" cy="131.2" r="1.15"/><circle cx="323.1" cy="133.0" r="1.15"/><circle cx="306.5" cy="134.0" r="1.15"/><circle cx="310.5" cy="133.7" r="1.15"/><circle cx="332.0" cy="131.5" r="1.15"/><circle cx="317.7" cy="135.3" r="1.15"/><circle cx="316.7" cy="129.4" r="1.15"/><circle cx="312.1" cy="136.4" r="1.15"/><circle cx="310.3" cy="132.5" r="1.15"/><circle cx="304.7" cy="131.6" r="1.15"/><circle cx="306.3" cy="137.0" r="1.15"/><circle cx="321.2" cy="130.4" r="1.15"/><circle cx="327.2" cy="135.0" r="1.15"/><circle cx="326.2" cy="134.3" r="1.15"/><circle cx="315.7" cy="132.8" r="1.15"/><circle cx="313.8" cy="134.9" r="1.15"/><circle cx="322.7" cy="132.1" r="1.15"/><circle cx="329.5" cy="125.0" r="1.15"/><circle cx="310.9" cy="132.4" r="1.15"/><circle cx="319.3" cy="133.2" r="1.15"/><circle cx="328.5" cy="135.1" r="1.15"/><circle cx="316.0" cy="126.0" r="1.15"/><circle cx="317.9" cy="131.0" r="1.15"/><circle cx="311.6" cy="135.9" r="1.15"/><circle cx="310.7" cy="126.9" r="1.15"/><circle cx="308.4" cy="136.4" r="1.15"/><circle cx="308.9" cy="132.9" r="1.15"/><circle cx="307.9" cy="129.0" r="1.15"/><circle cx="329.8" cy="120.9" r="1.15"/><circle cx="328.9" cy="119.0" r="1.15"/><circle cx="321.2" cy="130.1" r="1.15"/><circle cx="322.5" cy="132.4" r="1.15"/><circle cx="327.6" cy="130.1" r="1.15"/><circle cx="320.0" cy="133.8" r="1.15"/><circle cx="323.7" cy="122.3" r="1.15"/><circle cx="299.4" cy="136.9" r="1.15"/><circle cx="303.7" cy="133.5" r="1.15"/><circle cx="308.6" cy="129.5" r="1.15"/><circle cx="303.0" cy="133.7" r="1.15"/><circle cx="304.5" cy="132.5" r="1.15"/><circle cx="305.4" cy="130.4" r="1.15"/><circle cx="307.6" cy="127.1" r="1.15"/><circle cx="309.8" cy="125.2" r="1.15"/><circle cx="314.4" cy="133.3" r="1.15"/><circle cx="316.9" cy="131.1" r="1.15"/><circle cx="318.0" cy="129.1" r="1.15"/><circle cx="320.7" cy="126.4" r="1.15"/><circle cx="323.0" cy="123.5" r="1.15"/><circle cx="319.0" cy="135.3" r="1.15"/><circle cx="321.3" cy="132.5" r="1.15"/><circle cx="322.8" cy="130.2" r="1.15"/><circle cx="316.4" cy="134.0" r="1.15"/><circle cx="318.6" cy="130.6" r="1.15"/><circle cx="319.8" cy="129.0" r="1.15"/><circle cx="321.4" cy="126.7" r="1.15"/></g>
<g fill="#bebebe"><circle cx="506.1" cy="99.5" r="1.15"/><circle cx="513.1" cy="98.1" r="1.15"/><circle cx="519.2" cy="98.7" r="1.15"/><circle cx="533.2" cy="75.4" r="1.15"/><circle cx="509.0" cy="103.0" r="1.15"/><circle cx="503.0" cy="109.0" r="1.15"/><circle cx="499.0" cy="115.0" r="1.15"/><circle cx="495.0" cy="121.0" r="1.15"/><circle cx="491.0" cy="127.0" r="1.15"/><circle cx="449.5" cy="125.0" r="1.15"/><circle cx="459.5" cy="128.0" r="1.15"/></g>
<g fill="#b010e0"><circle cx="437.6" cy="40.1" r="1.15"/><circle cx="433.2" cy="62.2" r="1.15"/><circle cx="440.5" cy="59.8" r="1.15"/><circle cx="421.7" cy="73.2" r="1.15"/><circle cx="439.3" cy="74.0" r="1.15"/><circle cx="437.6" cy="82.3" r="1.15"/><circle cx="440.0" cy="82.3" r="1.15"/><circle cx="442.0" cy="82.3" r="1.15"/><circle cx="413.6" cy="86.0" r="1.15"/><circle cx="427.3" cy="84.3" r="1.15"/><circle cx="432.0" cy="85.0" r="1.15"/><circle cx="397.9" cy="90.9" r="1.15"/><circle cx="405.7" cy="93.6" r="1.15"/><circle cx="408.7" cy="97.3" r="1.15"/><circle cx="405.7" cy="102.0" r="1.15"/><circle cx="416.3" cy="92.1" r="1.15"/><circle cx="427.8" cy="94.6" r="1.15"/><circle cx="437.6" cy="90.9" r="1.15"/><circle cx="443.2" cy="89.9" r="1.15"/><circle cx="407.0" cy="115.0" r="1.15"/><circle cx="436.8" cy="131.0" r="1.15"/><circle cx="420.9" cy="118.4" r="1.15"/><circle cx="428.5" cy="96.5" r="1.15"/><circle cx="425.0" cy="128.4" r="1.15"/><circle cx="444.7" cy="134.9" r="1.15"/><circle cx="432.8" cy="126.9" r="1.15"/><circle cx="442.2" cy="116.8" r="1.15"/><circle cx="440.1" cy="133.8" r="1.15"/><circle cx="436.7" cy="114.3" r="1.15"/><circle cx="429.1" cy="105.7" r="1.15"/><circle cx="442.8" cy="135.9" r="1.15"/><circle cx="422.7" cy="125.7" r="1.15"/><circle cx="422.4" cy="132.7" r="1.15"/><circle cx="438.0" cy="121.6" r="1.15"/><circle cx="429.3" cy="125.6" r="1.15"/><circle cx="412.4" cy="93.4" r="1.15"/><circle cx="439.8" cy="136.9" r="1.15"/><circle cx="438.5" cy="94.1" r="1.15"/><circle cx="432.9" cy="136.1" r="1.15"/><circle cx="430.1" cy="122.3" r="1.15"/><circle cx="419.0" cy="117.0" r="1.15"/><circle cx="412.3" cy="97.4" r="1.15"/><circle cx="435.8" cy="112.8" r="1.15"/><circle cx="446.6" cy="111.6" r="1.15"/><circle cx="421.3" cy="130.7" r="1.15"/><circle cx="440.7" cy="101.8" r="1.15"/><circle cx="423.0" cy="133.2" r="1.15"/><circle cx="435.6" cy="101.4" r="1.15"/><circle cx="446.3" cy="133.8" r="1.15"/><circle cx="441.0" cy="102.3" r="1.15"/><circle cx="433.2" cy="133.8" r="1.15"/><circle cx="443.8" cy="114.9" r="1.15"/><circle cx="441.0" cy="132.9" r="1.15"/><circle cx="436.6" cy="132.8" r="1.15"/><circle cx="431.7" cy="135.5" r="1.15"/><circle cx="447.4" cy="127.6" r="1.15"/><circle cx="435.2" cy="115.3" r="1.15"/><circle cx="433.9" cy="106.3" r="1.15"/><circle cx="429.9" cy="129.8" r="1.15"/><circle cx="437.5" cy="136.9" r="1.15"/><circle cx="441.4" cy="127.1" r="1.15"/><circle cx="446.3" cy="123.0" r="1.15"/><circle cx="444.3" cy="131.1" r="1.15"/><circle cx="429.5" cy="138.0" r="1.15"/><circle cx="447.5" cy="131.2" r="1.15"/><circle cx="443.7" cy="121.3" r="1.15"/><circle cx="448.8" cy="113.6" r="1.15"/><circle cx="431.4" cy="117.7" r="1.15"/><circle cx="438.9" cy="134.6" r="1.15"/><circle cx="434.6" cy="129.2" r="1.15"/><circle cx="439.0" cy="133.5" r="1.15"/><circle cx="438.7" cy="123.9" r="1.15"/><circle cx="431.8" cy="106.5" r="1.15"/><circle cx="444.3" cy="134.4" r="1.15"/><circle cx="438.6" cy="127.7" r="1.15"/><circle cx="440.4" cy="136.3" r="1.15"/><circle cx="446.2" cy="133.8" r="1.15"/><circle cx="430.5" cy="111.2" r="1.15"/><circle cx="435.4" cy="116.0" r="1.15"/><circle cx="446.9" cy="123.5" r="1.15"/><circle cx="435.5" cy="134.4" r="1.15"/><circle cx="437.9" cy="124.7" r="1.15"/><circle cx="441.4" cy="133.4" r="1.15"/><circle cx="430.9" cy="138.9" r="1.15"/><circle cx="443.7" cy="123.4" r="1.15"/><circle cx="438.5" cy="138.1" r="1.15"/><circle cx="434.6" cy="132.8" r="1.15"/><circle cx="436.1" cy="131.8" r="1.15"/><circle cx="437.0" cy="127.7" r="1.15"/><circle cx="439.5" cy="137.6" r="1.15"/><circle cx="443.9" cy="108.4" r="1.15"/><circle cx="436.6" cy="137.6" r="1.15"/><circle cx="431.2" cy="135.2" r="1.15"/><circle cx="446.0" cy="128.7" r="1.15"/><circle cx="442.4" cy="129.9" r="1.15"/><circle cx="436.5" cy="135.7" r="1.15"/><circle cx="436.2" cy="137.6" r="1.15"/><circle cx="437.3" cy="126.9" r="1.15"/><circle cx="446.3" cy="132.0" r="1.15"/><circle cx="446.5" cy="131.2" r="1.15"/><circle cx="431.2" cy="128.1" r="1.15"/><circle cx="433.7" cy="119.5" r="1.15"/><circle cx="433.6" cy="137.8" r="1.15"/><circle cx="431.8" cy="132.3" r="1.15"/><circle cx="436.4" cy="118.4" r="1.15"/><circle cx="444.9" cy="118.3" r="1.15"/><circle cx="447.0" cy="135.5" r="1.15"/><circle cx="439.9" cy="139.1" r="1.15"/><circle cx="435.8" cy="135.9" r="1.15"/><circle cx="441.4" cy="122.1" r="1.15"/><circle cx="438.9" cy="108.6" r="1.15"/><circle cx="435.3" cy="110.5" r="1.15"/><circle cx="436.4" cy="104.4" r="1.15"/><circle cx="431.1" cy="136.7" r="1.15"/><circle cx="433.2" cy="133.5" r="1.15"/><circle cx="432.9" cy="123.3" r="1.15"/><circle cx="431.8" cy="137.5" r="1.15"/><circle cx="439.9" cy="120.6" r="1.15"/><circle cx="429.8" cy="121.4" r="1.15"/><circle cx="447.4" cy="126.3" r="1.15"/><circle cx="445.8" cy="128.2" r="1.15"/><circle cx="432.2" cy="137.6" r="1.15"/><circle cx="430.2" cy="123.6" r="1.15"/><circle cx="442.3" cy="136.3" r="1.15"/><circle cx="438.5" cy="113.8" r="1.15"/><circle cx="436.0" cy="137.6" r="1.15"/><circle cx="448.1" cy="137.7" r="1.15"/><circle cx="432.3" cy="136.4" r="1.15"/><circle cx="436.5" cy="134.5" r="1.15"/><circle cx="434.2" cy="132.6" r="1.15"/><circle cx="444.8" cy="110.1" r="1.15"/><circle cx="436.8" cy="122.9" r="1.15"/><circle cx="448.3" cy="133.4" r="1.15"/><circle cx="444.6" cy="129.5" r="1.15"/><circle cx="431.1" cy="116.7" r="1.15"/><circle cx="447.6" cy="136.5" r="1.15"/><circle cx="432.0" cy="123.4" r="1.15"/><circle cx="439.5" cy="130.3" r="1.15"/><circle cx="444.4" cy="113.2" r="1.15"/><circle cx="439.5" cy="110.4" r="1.15"/><circle cx="435.5" cy="138.2" r="1.15"/><circle cx="440.8" cy="135.9" r="1.15"/><circle cx="430.7" cy="126.8" r="1.15"/><circle cx="447.4" cy="136.7" r="1.15"/><circle cx="440.1" cy="130.5" r="1.15"/><circle cx="436.1" cy="132.4" r="1.15"/><circle cx="440.3" cy="139.2" r="1.15"/><circle cx="436.1" cy="133.6" r="1.15"/><circle cx="448.1" cy="130.7" r="1.15"/><circle cx="429.2" cy="138.6" r="1.15"/><circle cx="444.7" cy="123.7" r="1.15"/><circle cx="441.9" cy="134.8" r="1.15"/><circle cx="437.5" cy="135.0" r="1.15"/><circle cx="436.3" cy="128.8" r="1.15"/><circle cx="447.7" cy="127.8" r="1.15"/><circle cx="432.8" cy="110.5" r="1.15"/><circle cx="432.7" cy="125.3" r="1.15"/><circle cx="435.1" cy="133.0" r="1.15"/><circle cx="441.7" cy="117.1" r="1.15"/><circle cx="431.1" cy="100.2" r="1.15"/><circle cx="434.3" cy="134.2" r="1.15"/><circle cx="432.9" cy="120.5" r="1.15"/><circle cx="437.3" cy="125.2" r="1.15"/><circle cx="440.4" cy="128.1" r="1.15"/><circle cx="439.3" cy="138.4" r="1.15"/><circle cx="440.6" cy="133.8" r="1.15"/><circle cx="429.2" cy="130.1" r="1.15"/><circle cx="440.0" cy="135.4" r="1.15"/><circle cx="442.7" cy="133.3" r="1.15"/><circle cx="445.0" cy="139.2" r="1.15"/><circle cx="431.1" cy="130.9" r="1.15"/><circle cx="438.5" cy="127.5" r="1.15"/><circle cx="441.3" cy="136.7" r="1.15"/><circle cx="446.7" cy="134.3" r="1.15"/><circle cx="441.2" cy="121.1" r="1.15"/><circle cx="436.6" cy="100.5" r="1.15"/><circle cx="440.6" cy="103.7" r="1.15"/><circle cx="436.0" cy="138.1" r="1.15"/><circle cx="444.0" cy="127.1" r="1.15"/><circle cx="429.2" cy="133.1" r="1.15"/><circle cx="432.7" cy="131.5" r="1.15"/><circle cx="431.1" cy="138.3" r="1.15"/><circle cx="437.8" cy="107.2" r="1.15"/><circle cx="441.9" cy="135.1" r="1.15"/><circle cx="448.0" cy="136.8" r="1.15"/><circle cx="442.0" cy="122.2" r="1.15"/><circle cx="443.1" cy="132.2" r="1.15"/><circle cx="443.5" cy="126.4" r="1.15"/><circle cx="431.2" cy="124.7" r="1.15"/><circle cx="443.6" cy="120.8" r="1.15"/><circle cx="429.6" cy="126.4" r="1.15"/><circle cx="446.4" cy="116.1" r="1.15"/><circle cx="431.0" cy="133.5" r="1.15"/><circle cx="444.9" cy="136.4" r="1.15"/><circle cx="436.8" cy="110.1" r="1.15"/><circle cx="435.0" cy="103.4" r="1.15"/><circle cx="443.2" cy="133.8" r="1.15"/><circle cx="433.1" cy="124.6" r="1.15"/><circle cx="439.3" cy="123.4" r="1.15"/><circle cx="440.6" cy="138.5" r="1.15"/><circle cx="439.1" cy="138.6" r="1.15"/><circle cx="435.2" cy="133.6" r="1.15"/><circle cx="437.6" cy="126.5" r="1.15"/><circle cx="442.3" cy="130.6" r="1.15"/><circle cx="448.4" cy="103.0" r="1.15"/><circle cx="447.0" cy="126.0" r="1.15"/><circle cx="433.6" cy="133.7" r="1.15"/><circle cx="446.0" cy="136.9" r="1.15"/><circle cx="444.8" cy="118.9" r="1.15"/><circle cx="446.1" cy="115.8" r="1.15"/><circle cx="438.9" cy="128.5" r="1.15"/><circle cx="435.9" cy="128.0" r="1.15"/><circle cx="434.7" cy="126.4" r="1.15"/><circle cx="440.7" cy="120.4" r="1.15"/><circle cx="442.2" cy="121.9" r="1.15"/><circle cx="432.9" cy="118.4" r="1.15"/><circle cx="441.2" cy="118.6" r="1.15"/><circle cx="429.4" cy="130.8" r="1.15"/><circle cx="441.8" cy="128.9" r="1.15"/><circle cx="430.0" cy="137.3" r="1.15"/><circle cx="448.5" cy="130.3" r="1.15"/><circle cx="434.7" cy="118.5" r="1.15"/><circle cx="442.9" cy="119.5" r="1.15"/><circle cx="446.1" cy="138.9" r="1.15"/><circle cx="445.0" cy="138.4" r="1.15"/><circle cx="437.5" cy="128.0" r="1.15"/><circle cx="440.1" cy="137.0" r="1.15"/><circle cx="444.0" cy="120.6" r="1.15"/><circle cx="430.3" cy="136.8" r="1.15"/><circle cx="447.8" cy="118.2" r="1.15"/><circle cx="437.5" cy="125.1" r="1.15"/><circle cx="440.5" cy="116.7" r="1.15"/><circle cx="438.3" cy="133.8" r="1.15"/><circle cx="430.6" cy="137.7" r="1.15"/><circle cx="433.4" cy="138.4" r="1.15"/><circle cx="434.9" cy="132.1" r="1.15"/><circle cx="431.2" cy="138.4" r="1.15"/><circle cx="436.3" cy="131.9" r="1.15"/><circle cx="435.2" cy="135.7" r="1.15"/><circle cx="442.4" cy="135.0" r="1.15"/><circle cx="438.7" cy="135.6" r="1.15"/><circle cx="443.4" cy="119.4" r="1.15"/><circle cx="435.0" cy="134.3" r="1.15"/><circle cx="429.1" cy="135.9" r="1.15"/><circle cx="436.3" cy="136.9" r="1.15"/><circle cx="431.2" cy="110.8" r="1.15"/><circle cx="442.0" cy="119.8" r="1.15"/><circle cx="431.9" cy="134.7" r="1.15"/><circle cx="440.7" cy="130.0" r="1.15"/><circle cx="430.8" cy="136.8" r="1.15"/><circle cx="434.3" cy="126.6" r="1.15"/><circle cx="438.4" cy="127.2" r="1.15"/><circle cx="430.9" cy="136.0" r="1.15"/><circle cx="430.9" cy="133.0" r="1.15"/><circle cx="432.6" cy="111.4" r="1.15"/><circle cx="443.9" cy="111.4" r="1.15"/><circle cx="429.1" cy="134.4" r="1.15"/><circle cx="448.0" cy="137.6" r="1.15"/><circle cx="429.4" cy="139.2" r="1.15"/><circle cx="430.4" cy="137.0" r="1.15"/><circle cx="433.3" cy="137.9" r="1.15"/><circle cx="444.2" cy="123.2" r="1.15"/><circle cx="446.1" cy="133.5" r="1.15"/><circle cx="430.3" cy="121.7" r="1.15"/><circle cx="447.7" cy="135.6" r="1.15"/><circle cx="432.4" cy="122.9" r="1.15"/><circle cx="447.5" cy="129.5" r="1.15"/><circle cx="442.8" cy="131.4" r="1.15"/><circle cx="445.7" cy="139.0" r="1.15"/><circle cx="429.1" cy="134.0" r="1.15"/><circle cx="431.0" cy="137.5" r="1.15"/><circle cx="437.7" cy="137.3" r="1.15"/><circle cx="438.8" cy="136.5" r="1.15"/><circle cx="434.2" cy="137.1" r="1.15"/><circle cx="433.3" cy="129.6" r="1.15"/><circle cx="445.5" cy="133.2" r="1.15"/><circle cx="437.6" cy="104.2" r="1.15"/><circle cx="440.4" cy="135.9" r="1.15"/><circle cx="429.5" cy="109.2" r="1.15"/><circle cx="433.4" cy="134.8" r="1.15"/><circle cx="444.0" cy="135.0" r="1.15"/><circle cx="446.6" cy="138.7" r="1.15"/><circle cx="437.4" cy="132.0" r="1.15"/><circle cx="436.5" cy="133.0" r="1.15"/><circle cx="448.5" cy="123.0" r="1.15"/><circle cx="434.8" cy="128.3" r="1.15"/><circle cx="436.6" cy="122.9" r="1.15"/><circle cx="429.3" cy="110.3" r="1.15"/><circle cx="433.7" cy="132.2" r="1.15"/><circle cx="441.0" cy="131.7" r="1.15"/><circle cx="429.4" cy="132.4" r="1.15"/><circle cx="439.7" cy="131.9" r="1.15"/><circle cx="448.7" cy="126.2" r="1.15"/><circle cx="430.2" cy="135.2" r="1.15"/><circle cx="435.5" cy="132.7" r="1.15"/><circle cx="442.6" cy="136.2" r="1.15"/><circle cx="445.4" cy="113.4" r="1.15"/><circle cx="432.5" cy="105.8" r="1.15"/><circle cx="447.2" cy="122.7" r="1.15"/><circle cx="440.9" cy="124.8" r="1.15"/><circle cx="436.6" cy="134.0" r="1.15"/><circle cx="429.5" cy="139.3" r="1.15"/><circle cx="433.2" cy="112.4" r="1.15"/><circle cx="437.3" cy="126.7" r="1.15"/><circle cx="429.1" cy="135.6" r="1.15"/><circle cx="435.2" cy="120.3" r="1.15"/><circle cx="439.8" cy="121.9" r="1.15"/><circle cx="439.5" cy="128.8" r="1.15"/><circle cx="435.5" cy="123.5" r="1.15"/><circle cx="440.9" cy="125.4" r="1.15"/><circle cx="436.7" cy="135.8" r="1.15"/><circle cx="435.5" cy="135.0" r="1.15"/><circle cx="430.5" cy="130.3" r="1.15"/><circle cx="433.6" cy="129.0" r="1.15"/><circle cx="437.9" cy="135.8" r="1.15"/><circle cx="444.8" cy="102.6" r="1.15"/><circle cx="437.0" cy="128.9" r="1.15"/><circle cx="437.0" cy="115.8" r="1.15"/><circle cx="442.6" cy="136.7" r="1.15"/><circle cx="431.9" cy="130.7" r="1.15"/><circle cx="435.0" cy="114.7" r="1.15"/><circle cx="430.7" cy="111.0" r="1.15"/><circle cx="447.4" cy="132.6" r="1.15"/><circle cx="431.7" cy="115.5" r="1.15"/><circle cx="445.3" cy="137.0" r="1.15"/><circle cx="442.4" cy="137.8" r="1.15"/><circle cx="440.2" cy="116.5" r="1.15"/><circle cx="437.1" cy="130.9" r="1.15"/><circle cx="446.1" cy="132.3" r="1.15"/><circle cx="429.0" cy="122.7" r="1.15"/><circle cx="438.5" cy="130.2" r="1.15"/><circle cx="432.3" cy="119.4" r="1.15"/><circle cx="444.6" cy="123.3" r="1.15"/><circle cx="440.0" cy="129.0" r="1.15"/><circle cx="442.7" cy="132.8" r="1.15"/><circle cx="440.6" cy="132.6" r="1.15"/><circle cx="448.2" cy="136.2" r="1.15"/><circle cx="436.2" cy="138.5" r="1.15"/><circle cx="444.0" cy="121.6" r="1.15"/><circle cx="441.9" cy="133.8" r="1.15"/><circle cx="442.6" cy="114.1" r="1.15"/><circle cx="446.1" cy="125.1" r="1.15"/><circle cx="431.3" cy="136.1" r="1.15"/><circle cx="438.9" cy="117.3" r="1.15"/><circle cx="435.4" cy="132.8" r="1.15"/><circle cx="447.4" cy="131.1" r="1.15"/><circle cx="440.0" cy="121.8" r="1.15"/><circle cx="441.5" cy="132.0" r="1.15"/><circle cx="434.9" cy="116.0" r="1.15"/><circle cx="440.3" cy="132.5" r="1.15"/><circle cx="436.1" cy="103.1" r="1.15"/><circle cx="433.8" cy="132.8" r="1.15"/><circle cx="434.6" cy="133.7" r="1.15"/><circle cx="446.6" cy="119.5" r="1.15"/><circle cx="439.8" cy="128.9" r="1.15"/><circle cx="437.6" cy="106.9" r="1.15"/><circle cx="433.0" cy="138.9" r="1.15"/><circle cx="435.8" cy="130.6" r="1.15"/><circle cx="438.2" cy="113.7" r="1.15"/><circle cx="439.1" cy="130.3" r="1.15"/><circle cx="430.8" cy="131.2" r="1.15"/><circle cx="437.7" cy="129.3" r="1.15"/><circle cx="431.9" cy="123.8" r="1.15"/><circle cx="433.3" cy="132.1" r="1.15"/><circle cx="447.5" cy="123.4" r="1.15"/><circle cx="436.5" cy="118.8" r="1.15"/><circle cx="432.8" cy="137.5" r="1.15"/><circle cx="443.0" cy="138.2" r="1.15"/><circle cx="432.0" cy="137.8" r="1.15"/><circle cx="446.1" cy="119.7" r="1.15"/><circle cx="436.3" cy="138.5" r="1.15"/><circle cx="434.3" cy="121.9" r="1.15"/><circle cx="437.8" cy="138.5" r="1.15"/><circle cx="434.1" cy="131.7" r="1.15"/><circle cx="432.0" cy="110.5" r="1.15"/><circle cx="444.7" cy="133.6" r="1.15"/><circle cx="437.2" cy="139.2" r="1.15"/><circle cx="429.2" cy="134.8" r="1.15"/><circle cx="442.1" cy="134.0" r="1.15"/><circle cx="442.3" cy="111.9" r="1.15"/><circle cx="425.8" cy="132.1" r="1.15"/><circle cx="423.9" cy="138.8" r="1.15"/><circle cx="422.3" cy="119.1" r="1.15"/><circle cx="429.2" cy="119.9" r="1.15"/><circle cx="421.6" cy="137.0" r="1.15"/><circle cx="423.2" cy="133.1" r="1.15"/><circle cx="424.8" cy="130.5" r="1.15"/><circle cx="423.1" cy="123.1" r="1.15"/><circle cx="420.8" cy="114.1" r="1.15"/><circle cx="425.8" cy="138.8" r="1.15"/><circle cx="422.4" cy="131.7" r="1.15"/><circle cx="423.7" cy="131.0" r="1.15"/><circle cx="422.5" cy="136.1" r="1.15"/><circle cx="429.1" cy="135.9" r="1.15"/><circle cx="427.9" cy="123.1" r="1.15"/><circle cx="426.3" cy="133.2" r="1.15"/><circle cx="431.1" cy="133.4" r="1.15"/><circle cx="430.3" cy="138.7" r="1.15"/><circle cx="424.1" cy="129.1" r="1.15"/><circle cx="418.7" cy="119.4" r="1.15"/><circle cx="419.0" cy="130.2" r="1.15"/><circle cx="420.5" cy="113.7" r="1.15"/><circle cx="425.9" cy="123.2" r="1.15"/><circle cx="425.0" cy="128.1" r="1.15"/><circle cx="427.4" cy="135.8" r="1.15"/><circle cx="421.0" cy="121.1" r="1.15"/><circle cx="420.0" cy="114.3" r="1.15"/><circle cx="419.3" cy="124.0" r="1.15"/><circle cx="431.3" cy="133.9" r="1.15"/><circle cx="427.2" cy="136.3" r="1.15"/><circle cx="430.7" cy="127.7" r="1.15"/><circle cx="427.7" cy="138.9" r="1.15"/><circle cx="429.7" cy="135.8" r="1.15"/><circle cx="421.3" cy="130.6" r="1.15"/><circle cx="422.5" cy="131.1" r="1.15"/><circle cx="420.2" cy="115.0" r="1.15"/><circle cx="422.5" cy="120.9" r="1.15"/><circle cx="420.1" cy="123.2" r="1.15"/><circle cx="431.7" cy="134.3" r="1.15"/><circle cx="427.0" cy="136.8" r="1.15"/><circle cx="425.6" cy="138.3" r="1.15"/><circle cx="424.5" cy="126.3" r="1.15"/><circle cx="424.0" cy="127.9" r="1.15"/><circle cx="419.6" cy="121.7" r="1.15"/><circle cx="419.7" cy="113.6" r="1.15"/><circle cx="431.9" cy="111.3" r="1.15"/><circle cx="425.4" cy="135.9" r="1.15"/><circle cx="422.9" cy="125.4" r="1.15"/><circle cx="425.0" cy="112.7" r="1.15"/><circle cx="430.1" cy="130.2" r="1.15"/><circle cx="425.6" cy="138.4" r="1.15"/><circle cx="430.5" cy="120.6" r="1.15"/><circle cx="421.2" cy="113.4" r="1.15"/><circle cx="431.5" cy="135.1" r="1.15"/><circle cx="431.2" cy="128.6" r="1.15"/><circle cx="424.3" cy="136.5" r="1.15"/><circle cx="428.4" cy="137.3" r="1.15"/><circle cx="429.0" cy="135.8" r="1.15"/><circle cx="419.3" cy="131.3" r="1.15"/><circle cx="429.0" cy="130.2" r="1.15"/></g>
<g fill="#0a72e0"><circle cx="414.3" cy="104.0" r="1.15"/><circle cx="415.5" cy="107.6" r="1.15"/><circle cx="414.8" cy="111.3" r="1.15"/><circle cx="426.0" cy="138.0" r="1.15"/><circle cx="427.3" cy="135.5" r="1.15"/><circle cx="430.8" cy="134.1" r="1.15"/><circle cx="429.0" cy="125.4" r="1.15"/><circle cx="423.7" cy="113.2" r="1.15"/><circle cx="426.5" cy="133.4" r="1.15"/><circle cx="416.4" cy="104.8" r="1.15"/><circle cx="417.0" cy="119.8" r="1.15"/><circle cx="427.9" cy="134.7" r="1.15"/><circle cx="426.2" cy="132.9" r="1.15"/><circle cx="427.9" cy="119.4" r="1.15"/><circle cx="423.5" cy="131.5" r="1.15"/><circle cx="424.5" cy="131.3" r="1.15"/><circle cx="431.9" cy="130.3" r="1.15"/><circle cx="433.5" cy="133.3" r="1.15"/><circle cx="424.2" cy="118.9" r="1.15"/><circle cx="421.6" cy="104.3" r="1.15"/><circle cx="416.2" cy="116.6" r="1.15"/><circle cx="420.1" cy="115.9" r="1.15"/><circle cx="415.1" cy="115.0" r="1.15"/><circle cx="422.9" cy="107.4" r="1.15"/><circle cx="414.3" cy="102.3" r="1.15"/><circle cx="429.4" cy="130.6" r="1.15"/><circle cx="423.6" cy="134.1" r="1.15"/><circle cx="435.2" cy="124.8" r="1.15"/><circle cx="424.7" cy="132.0" r="1.15"/><circle cx="424.5" cy="135.1" r="1.15"/><circle cx="426.0" cy="132.2" r="1.15"/><circle cx="439.6" cy="118.1" r="1.15"/><circle cx="436.2" cy="129.1" r="1.15"/><circle cx="431.0" cy="122.7" r="1.15"/><circle cx="438.3" cy="123.3" r="1.15"/><circle cx="433.5" cy="135.1" r="1.15"/><circle cx="433.3" cy="121.3" r="1.15"/><circle cx="436.2" cy="137.3" r="1.15"/><circle cx="434.9" cy="131.9" r="1.15"/><circle cx="424.9" cy="118.7" r="1.15"/><circle cx="434.1" cy="123.4" r="1.15"/><circle cx="424.4" cy="121.7" r="1.15"/><circle cx="438.9" cy="120.0" r="1.15"/></g>
<g fill="#00ee00"><circle cx="484.1" cy="74.4" r="1.15"/><circle cx="496.1" cy="75.0" r="1.15"/><circle cx="477.0" cy="77.7" r="1.15"/><circle cx="480.0" cy="83.1" r="1.15"/><circle cx="487.5" cy="87.1" r="1.15"/><circle cx="492.7" cy="89.5" r="1.15"/><circle cx="477.0" cy="91.1" r="1.15"/><circle cx="499.7" cy="90.7" r="1.15"/><circle cx="483.1" cy="97.5" r="1.15"/><circle cx="490.7" cy="94.7" r="1.15"/><circle cx="490.0" cy="101.1" r="1.15"/><circle cx="496.1" cy="102.7" r="1.15"/><circle cx="502.1" cy="104.1" r="1.15"/><circle cx="465.0" cy="110.1" r="1.15"/><circle cx="467.4" cy="108.7" r="1.15"/><circle cx="498.7" cy="107.3" r="1.15"/><circle cx="482.6" cy="108.1" r="1.15"/><circle cx="500.8" cy="102.7" r="1.15"/><circle cx="470.3" cy="128.5" r="1.15"/><circle cx="472.3" cy="127.3" r="1.15"/><circle cx="500.8" cy="111.1" r="1.15"/><circle cx="464.5" cy="120.5" r="1.15"/><circle cx="490.9" cy="106.9" r="1.15"/><circle cx="465.8" cy="109.4" r="1.15"/><circle cx="481.8" cy="122.8" r="1.15"/><circle cx="483.8" cy="132.1" r="1.15"/><circle cx="471.1" cy="131.6" r="1.15"/><circle cx="475.2" cy="137.8" r="1.15"/><circle cx="474.1" cy="117.8" r="1.15"/><circle cx="483.0" cy="120.0" r="1.15"/><circle cx="478.8" cy="134.9" r="1.15"/><circle cx="469.9" cy="107.5" r="1.15"/><circle cx="468.4" cy="126.0" r="1.15"/><circle cx="460.0" cy="136.0" r="1.15"/><circle cx="478.3" cy="137.6" r="1.15"/><circle cx="488.7" cy="103.8" r="1.15"/><circle cx="486.7" cy="131.0" r="1.15"/><circle cx="508.3" cy="99.1" r="1.15"/><circle cx="494.4" cy="121.5" r="1.15"/><circle cx="479.5" cy="126.2" r="1.15"/><circle cx="495.2" cy="96.7" r="1.15"/><circle cx="485.9" cy="131.4" r="1.15"/><circle cx="489.0" cy="128.8" r="1.15"/><circle cx="499.1" cy="99.6" r="1.15"/><circle cx="497.9" cy="114.6" r="1.15"/><circle cx="461.8" cy="132.4" r="1.15"/><circle cx="490.6" cy="124.0" r="1.15"/><circle cx="462.4" cy="130.5" r="1.15"/><circle cx="474.6" cy="113.6" r="1.15"/><circle cx="475.1" cy="125.4" r="1.15"/><circle cx="493.7" cy="110.1" r="1.15"/><circle cx="468.4" cy="124.1" r="1.15"/><circle cx="502.9" cy="111.1" r="1.15"/><circle cx="478.1" cy="136.8" r="1.15"/><circle cx="486.8" cy="101.7" r="1.15"/><circle cx="468.4" cy="115.4" r="1.15"/><circle cx="468.9" cy="132.8" r="1.15"/><circle cx="462.8" cy="133.1" r="1.15"/><circle cx="470.3" cy="132.5" r="1.15"/><circle cx="482.8" cy="137.4" r="1.15"/><circle cx="473.5" cy="130.5" r="1.15"/><circle cx="473.9" cy="135.4" r="1.15"/><circle cx="467.9" cy="114.0" r="1.15"/><circle cx="484.5" cy="124.8" r="1.15"/><circle cx="494.9" cy="114.4" r="1.15"/><circle cx="474.3" cy="131.4" r="1.15"/><circle cx="475.0" cy="121.6" r="1.15"/><circle cx="473.5" cy="112.9" r="1.15"/><circle cx="462.1" cy="108.0" r="1.15"/><circle cx="472.7" cy="138.2" r="1.15"/><circle cx="488.5" cy="114.3" r="1.15"/><circle cx="476.0" cy="120.9" r="1.15"/><circle cx="496.0" cy="112.7" r="1.15"/><circle cx="480.4" cy="110.0" r="1.15"/><circle cx="478.2" cy="135.8" r="1.15"/><circle cx="487.1" cy="119.6" r="1.15"/><circle cx="477.6" cy="138.3" r="1.15"/><circle cx="481.5" cy="126.9" r="1.15"/><circle cx="494.9" cy="114.2" r="1.15"/><circle cx="486.0" cy="98.4" r="1.15"/><circle cx="496.6" cy="117.6" r="1.15"/><circle cx="463.5" cy="122.9" r="1.15"/><circle cx="471.1" cy="134.9" r="1.15"/><circle cx="464.9" cy="119.2" r="1.15"/><circle cx="478.7" cy="117.9" r="1.15"/><circle cx="463.8" cy="106.7" r="1.15"/><circle cx="476.9" cy="139.4" r="1.15"/><circle cx="474.3" cy="138.4" r="1.15"/><circle cx="483.2" cy="124.9" r="1.15"/><circle cx="471.7" cy="121.6" r="1.15"/><circle cx="477.7" cy="132.3" r="1.15"/><circle cx="503.6" cy="109.7" r="1.15"/><circle cx="486.2" cy="129.6" r="1.15"/><circle cx="463.3" cy="121.6" r="1.15"/><circle cx="480.8" cy="126.6" r="1.15"/><circle cx="463.7" cy="127.8" r="1.15"/><circle cx="467.0" cy="128.6" r="1.15"/><circle cx="495.5" cy="117.3" r="1.15"/><circle cx="483.6" cy="132.0" r="1.15"/><circle cx="469.9" cy="130.2" r="1.15"/><circle cx="474.7" cy="135.6" r="1.15"/><circle cx="482.8" cy="135.5" r="1.15"/><circle cx="473.8" cy="124.7" r="1.15"/><circle cx="470.7" cy="139.3" r="1.15"/><circle cx="478.5" cy="136.3" r="1.15"/><circle cx="475.9" cy="138.7" r="1.15"/><circle cx="469.1" cy="131.6" r="1.15"/><circle cx="483.7" cy="137.6" r="1.15"/><circle cx="465.5" cy="136.5" r="1.15"/><circle cx="511.5" cy="95.8" r="1.15"/><circle cx="465.7" cy="124.6" r="1.15"/><circle cx="473.1" cy="139.1" r="1.15"/><circle cx="482.7" cy="115.8" r="1.15"/><circle cx="480.0" cy="109.4" r="1.15"/><circle cx="460.7" cy="135.2" r="1.15"/><circle cx="460.5" cy="107.6" r="1.15"/><circle cx="462.2" cy="99.9" r="1.15"/><circle cx="476.8" cy="121.9" r="1.15"/><circle cx="472.7" cy="97.0" r="1.15"/><circle cx="479.9" cy="137.5" r="1.15"/><circle cx="470.4" cy="128.5" r="1.15"/><circle cx="490.4" cy="121.3" r="1.15"/><circle cx="463.5" cy="116.3" r="1.15"/><circle cx="462.8" cy="128.0" r="1.15"/><circle cx="480.8" cy="119.4" r="1.15"/><circle cx="473.3" cy="136.8" r="1.15"/><circle cx="471.5" cy="127.7" r="1.15"/><circle cx="467.1" cy="138.0" r="1.15"/><circle cx="479.1" cy="130.4" r="1.15"/><circle cx="460.3" cy="136.8" r="1.15"/><circle cx="481.6" cy="136.9" r="1.15"/><circle cx="465.4" cy="124.0" r="1.15"/><circle cx="476.5" cy="129.5" r="1.15"/><circle cx="474.1" cy="139.1" r="1.15"/><circle cx="460.6" cy="102.1" r="1.15"/><circle cx="475.8" cy="139.1" r="1.15"/><circle cx="460.2" cy="136.7" r="1.15"/><circle cx="479.8" cy="137.0" r="1.15"/><circle cx="472.1" cy="112.9" r="1.15"/><circle cx="471.2" cy="114.3" r="1.15"/><circle cx="463.0" cy="137.8" r="1.15"/><circle cx="460.1" cy="125.3" r="1.15"/><circle cx="460.7" cy="103.3" r="1.15"/><circle cx="473.2" cy="137.4" r="1.15"/><circle cx="476.0" cy="137.7" r="1.15"/><circle cx="468.1" cy="138.4" r="1.15"/><circle cx="475.4" cy="117.5" r="1.15"/><circle cx="479.3" cy="139.5" r="1.15"/><circle cx="477.3" cy="131.4" r="1.15"/><circle cx="476.4" cy="132.5" r="1.15"/><circle cx="470.7" cy="130.5" r="1.15"/><circle cx="475.7" cy="138.7" r="1.15"/><circle cx="460.3" cy="131.6" r="1.15"/><circle cx="463.5" cy="134.4" r="1.15"/><circle cx="460.0" cy="125.8" r="1.15"/><circle cx="460.1" cy="121.8" r="1.15"/><circle cx="476.1" cy="133.4" r="1.15"/><circle cx="460.9" cy="129.0" r="1.15"/><circle cx="462.1" cy="133.9" r="1.15"/><circle cx="460.8" cy="102.0" r="1.15"/><circle cx="468.9" cy="135.2" r="1.15"/><circle cx="460.6" cy="126.4" r="1.15"/><circle cx="477.2" cy="120.6" r="1.15"/><circle cx="460.7" cy="134.9" r="1.15"/><circle cx="463.7" cy="125.1" r="1.15"/><circle cx="461.3" cy="130.2" r="1.15"/><circle cx="481.3" cy="124.9" r="1.15"/><circle cx="460.0" cy="138.7" r="1.15"/><circle cx="460.8" cy="127.7" r="1.15"/><circle cx="470.2" cy="132.2" r="1.15"/><circle cx="466.8" cy="134.3" r="1.15"/><circle cx="470.5" cy="129.0" r="1.15"/><circle cx="479.3" cy="126.3" r="1.15"/><circle cx="475.6" cy="115.1" r="1.15"/><circle cx="476.9" cy="126.9" r="1.15"/><circle cx="460.1" cy="128.1" r="1.15"/><circle cx="477.2" cy="133.9" r="1.15"/><circle cx="478.1" cy="137.5" r="1.15"/><circle cx="480.1" cy="133.7" r="1.15"/><circle cx="473.1" cy="136.6" r="1.15"/><circle cx="463.6" cy="135.2" r="1.15"/><circle cx="464.1" cy="138.5" r="1.15"/><circle cx="471.6" cy="112.6" r="1.15"/><circle cx="474.6" cy="121.4" r="1.15"/><circle cx="481.8" cy="125.5" r="1.15"/><circle cx="463.2" cy="136.6" r="1.15"/><circle cx="465.8" cy="139.3" r="1.15"/><circle cx="462.4" cy="117.8" r="1.15"/><circle cx="479.4" cy="135.5" r="1.15"/><circle cx="474.9" cy="124.6" r="1.15"/><circle cx="478.5" cy="123.7" r="1.15"/><circle cx="468.5" cy="138.4" r="1.15"/><circle cx="476.5" cy="135.7" r="1.15"/><circle cx="470.9" cy="134.9" r="1.15"/><circle cx="468.7" cy="105.8" r="1.15"/><circle cx="461.4" cy="131.9" r="1.15"/><circle cx="471.5" cy="131.8" r="1.15"/><circle cx="480.0" cy="134.3" r="1.15"/><circle cx="479.2" cy="127.8" r="1.15"/><circle cx="480.9" cy="138.6" r="1.15"/><circle cx="462.2" cy="136.1" r="1.15"/><circle cx="479.0" cy="139.4" r="1.15"/><circle cx="462.9" cy="126.9" r="1.15"/><circle cx="481.7" cy="137.6" r="1.15"/><circle cx="466.4" cy="127.9" r="1.15"/><circle cx="472.6" cy="125.8" r="1.15"/><circle cx="474.4" cy="136.6" r="1.15"/><circle cx="462.9" cy="139.2" r="1.15"/><circle cx="472.6" cy="137.2" r="1.15"/><circle cx="462.9" cy="106.2" r="1.15"/><circle cx="471.4" cy="130.6" r="1.15"/><circle cx="471.7" cy="130.4" r="1.15"/><circle cx="472.7" cy="135.9" r="1.15"/><circle cx="460.4" cy="138.8" r="1.15"/><circle cx="460.0" cy="135.0" r="1.15"/><circle cx="461.2" cy="138.3" r="1.15"/><circle cx="467.6" cy="104.6" r="1.15"/><circle cx="472.5" cy="136.3" r="1.15"/><circle cx="474.8" cy="137.5" r="1.15"/><circle cx="460.7" cy="135.9" r="1.15"/><circle cx="465.8" cy="127.8" r="1.15"/><circle cx="466.5" cy="126.5" r="1.15"/><circle cx="460.6" cy="112.6" r="1.15"/><circle cx="464.4" cy="121.6" r="1.15"/><circle cx="460.1" cy="121.9" r="1.15"/><circle cx="462.4" cy="120.2" r="1.15"/><circle cx="475.8" cy="128.4" r="1.15"/><circle cx="463.2" cy="139.4" r="1.15"/><circle cx="461.8" cy="116.0" r="1.15"/><circle cx="461.4" cy="128.7" r="1.15"/><circle cx="469.9" cy="128.7" r="1.15"/><circle cx="461.7" cy="137.9" r="1.15"/><circle cx="465.2" cy="128.9" r="1.15"/><circle cx="469.5" cy="137.0" r="1.15"/><circle cx="460.4" cy="139.4" r="1.15"/><circle cx="477.3" cy="138.1" r="1.15"/><circle cx="480.8" cy="135.0" r="1.15"/><circle cx="473.5" cy="138.0" r="1.15"/><circle cx="475.4" cy="136.6" r="1.15"/><circle cx="464.9" cy="132.1" r="1.15"/><circle cx="460.8" cy="136.6" r="1.15"/><circle cx="475.6" cy="136.1" r="1.15"/><circle cx="465.2" cy="125.0" r="1.15"/><circle cx="462.3" cy="137.3" r="1.15"/><circle cx="462.3" cy="134.7" r="1.15"/><circle cx="464.9" cy="129.2" r="1.15"/><circle cx="467.1" cy="119.1" r="1.15"/><circle cx="460.3" cy="128.6" r="1.15"/><circle cx="476.8" cy="136.8" r="1.15"/><circle cx="460.1" cy="133.7" r="1.15"/><circle cx="460.9" cy="133.3" r="1.15"/><circle cx="473.2" cy="138.5" r="1.15"/><circle cx="460.9" cy="133.0" r="1.15"/><circle cx="461.6" cy="136.9" r="1.15"/><circle cx="466.4" cy="138.2" r="1.15"/><circle cx="460.4" cy="135.0" r="1.15"/><circle cx="467.1" cy="111.9" r="1.15"/><circle cx="469.1" cy="138.8" r="1.15"/><circle cx="462.3" cy="125.9" r="1.15"/><circle cx="469.3" cy="119.1" r="1.15"/><circle cx="480.8" cy="120.0" r="1.15"/><circle cx="460.8" cy="110.7" r="1.15"/><circle cx="468.4" cy="136.8" r="1.15"/><circle cx="461.6" cy="119.5" r="1.15"/><circle cx="462.2" cy="138.6" r="1.15"/><circle cx="463.0" cy="113.7" r="1.15"/><circle cx="466.9" cy="126.4" r="1.15"/><circle cx="460.4" cy="133.5" r="1.15"/><circle cx="463.9" cy="137.2" r="1.15"/><circle cx="471.9" cy="135.0" r="1.15"/><circle cx="467.4" cy="137.5" r="1.15"/><circle cx="460.0" cy="128.9" r="1.15"/><circle cx="468.1" cy="139.3" r="1.15"/><circle cx="467.1" cy="126.0" r="1.15"/><circle cx="468.7" cy="136.8" r="1.15"/><circle cx="467.8" cy="130.2" r="1.15"/><circle cx="471.6" cy="137.9" r="1.15"/><circle cx="475.8" cy="110.4" r="1.15"/><circle cx="474.0" cy="120.0" r="1.15"/><circle cx="464.9" cy="116.2" r="1.15"/><circle cx="461.7" cy="136.9" r="1.15"/><circle cx="470.2" cy="116.3" r="1.15"/><circle cx="460.5" cy="137.1" r="1.15"/><circle cx="460.1" cy="133.7" r="1.15"/><circle cx="461.2" cy="137.4" r="1.15"/><circle cx="474.3" cy="130.7" r="1.15"/><circle cx="480.0" cy="134.4" r="1.15"/><circle cx="472.3" cy="139.4" r="1.15"/><circle cx="480.3" cy="136.8" r="1.15"/><circle cx="467.2" cy="132.3" r="1.15"/><circle cx="480.3" cy="132.7" r="1.15"/><circle cx="481.7" cy="129.8" r="1.15"/><circle cx="462.2" cy="121.5" r="1.15"/><circle cx="466.8" cy="136.9" r="1.15"/><circle cx="480.7" cy="135.6" r="1.15"/></g>
<g fill="#ff1a10"><circle cx="486.7" cy="94.7" r="1.15"/><circle cx="482.4" cy="134.0" r="1.15"/><circle cx="475.7" cy="139.2" r="1.15"/><circle cx="483.3" cy="137.2" r="1.15"/><circle cx="471.9" cy="139.5" r="1.15"/><circle cx="477.2" cy="135.6" r="1.15"/><circle cx="481.1" cy="128.8" r="1.15"/><circle cx="474.7" cy="137.6" r="1.15"/><circle cx="468.9" cy="137.4" r="1.15"/><circle cx="477.9" cy="111.2" r="1.15"/><circle cx="489.3" cy="128.0" r="1.15"/><circle cx="481.2" cy="132.7" r="1.15"/><circle cx="470.5" cy="125.4" r="1.15"/><circle cx="486.2" cy="102.5" r="1.15"/><circle cx="482.3" cy="138.8" r="1.15"/><circle cx="469.9" cy="138.1" r="1.15"/><circle cx="470.9" cy="132.4" r="1.15"/><circle cx="479.2" cy="114.9" r="1.15"/><circle cx="472.4" cy="125.7" r="1.15"/><circle cx="479.6" cy="137.9" r="1.15"/><circle cx="486.9" cy="125.5" r="1.15"/><circle cx="477.7" cy="118.5" r="1.15"/><circle cx="470.3" cy="128.5" r="1.15"/><circle cx="488.8" cy="124.2" r="1.15"/><circle cx="483.5" cy="129.9" r="1.15"/><circle cx="475.5" cy="138.5" r="1.15"/><circle cx="474.0" cy="126.8" r="1.15"/><circle cx="480.7" cy="125.0" r="1.15"/><circle cx="472.6" cy="139.4" r="1.15"/><circle cx="480.6" cy="124.8" r="1.15"/><circle cx="474.7" cy="125.9" r="1.15"/><circle cx="472.9" cy="136.1" r="1.15"/><circle cx="468.9" cy="109.6" r="1.15"/><circle cx="487.3" cy="122.2" r="1.15"/><circle cx="483.6" cy="125.3" r="1.15"/><circle cx="473.4" cy="137.7" r="1.15"/><circle cx="482.0" cy="138.4" r="1.15"/><circle cx="477.8" cy="102.4" r="1.15"/><circle cx="478.0" cy="133.8" r="1.15"/><circle cx="474.8" cy="132.0" r="1.15"/><circle cx="489.0" cy="131.0" r="1.15"/><circle cx="468.8" cy="120.6" r="1.15"/><circle cx="471.7" cy="126.1" r="1.15"/><circle cx="476.5" cy="123.6" r="1.15"/><circle cx="468.8" cy="136.7" r="1.15"/><circle cx="473.4" cy="134.8" r="1.15"/><circle cx="486.6" cy="117.1" r="1.15"/><circle cx="477.4" cy="114.9" r="1.15"/><circle cx="470.8" cy="127.9" r="1.15"/><circle cx="479.0" cy="122.7" r="1.15"/><circle cx="475.0" cy="139.4" r="1.15"/><circle cx="479.3" cy="134.5" r="1.15"/><circle cx="482.1" cy="131.0" r="1.15"/><circle cx="491.9" cy="126.8" r="1.15"/><circle cx="475.0" cy="135.5" r="1.15"/><circle cx="472.8" cy="122.5" r="1.15"/><circle cx="484.1" cy="130.7" r="1.15"/><circle cx="488.6" cy="105.1" r="1.15"/><circle cx="478.4" cy="138.8" r="1.15"/><circle cx="489.7" cy="124.2" r="1.15"/><circle cx="482.9" cy="123.1" r="1.15"/><circle cx="474.4" cy="138.7" r="1.15"/><circle cx="475.1" cy="136.7" r="1.15"/><circle cx="477.0" cy="133.8" r="1.15"/><circle cx="478.8" cy="131.8" r="1.15"/><circle cx="484.4" cy="134.6" r="1.15"/><circle cx="486.0" cy="132.1" r="1.15"/><circle cx="487.6" cy="130.1" r="1.15"/><circle cx="481.0" cy="134.8" r="1.15"/><circle cx="482.2" cy="132.8" r="1.15"/><circle cx="483.1" cy="131.5" r="1.15"/><circle cx="485.7" cy="128.9" r="1.15"/></g>
<rect x="26.2" y="37.6" width="151.30" height="126.50" fill="none" stroke="#bdbdbd" stroke-width="0.9"/>
<line x1="24.20" y1="159.00" x2="26.2" y2="159.00" stroke="#444" stroke-width="0.5"/>
<text x="23.80" y="161.00" font-size="5.8" text-anchor="end" font-weight="normal" fill="#555" >0</text>
<line x1="24.20" y1="123.40" x2="26.2" y2="123.40" stroke="#444" stroke-width="0.5"/>
<text x="23.80" y="125.40" font-size="5.8" text-anchor="end" font-weight="normal" fill="#555" >2</text>
<line x1="24.20" y1="87.80" x2="26.2" y2="87.80" stroke="#444" stroke-width="0.5"/>
<text x="23.80" y="89.80" font-size="5.8" text-anchor="end" font-weight="normal" fill="#555" >4</text>
<line x1="24.20" y1="52.20" x2="26.2" y2="52.20" stroke="#444" stroke-width="0.5"/>
<text x="23.80" y="54.20" font-size="5.8" text-anchor="end" font-weight="normal" fill="#555" >6</text>
<line x1="54.60" y1="164.1" x2="54.60" y2="166.10" stroke="#444" stroke-width="0.5"/>
<text x="54.60" y="170.70" font-size="5.8" text-anchor="middle" font-weight="normal" fill="#666" >&#8722;5</text>
<line x1="94.00" y1="164.1" x2="94.00" y2="166.10" stroke="#444" stroke-width="0.5"/>
<text x="94.00" y="170.70" font-size="5.8" text-anchor="middle" font-weight="normal" fill="#666" >0</text>
<line x1="133.40" y1="164.1" x2="133.40" y2="166.10" stroke="#444" stroke-width="0.5"/>
<text x="133.40" y="170.70" font-size="5.8" text-anchor="middle" font-weight="normal" fill="#666" >5</text>
<line x1="172.80" y1="164.1" x2="172.80" y2="166.10" stroke="#444" stroke-width="0.5"/>
<text x="172.80" y="170.70" font-size="5.8" text-anchor="middle" font-weight="normal" fill="#666" >10</text>
<rect x="206.7" y="35.2" width="146.20" height="126.00" fill="none" stroke="#bdbdbd" stroke-width="0.9"/>
<line x1="204.70" y1="155.70" x2="206.7" y2="155.70" stroke="#444" stroke-width="0.5"/>
<text x="204.30" y="157.70" font-size="5.8" text-anchor="end" font-weight="normal" fill="#555" >0.0</text>
<line x1="204.70" y1="123.50" x2="206.7" y2="123.50" stroke="#444" stroke-width="0.5"/>
<text x="204.30" y="125.50" font-size="5.8" text-anchor="end" font-weight="normal" fill="#555" >2.5</text>
<line x1="204.70" y1="91.30" x2="206.7" y2="91.30" stroke="#444" stroke-width="0.5"/>
<text x="204.30" y="93.30" font-size="5.8" text-anchor="end" font-weight="normal" fill="#555" >5.0</text>
<line x1="204.70" y1="59.10" x2="206.7" y2="59.10" stroke="#444" stroke-width="0.5"/>
<text x="204.30" y="61.10" font-size="5.8" text-anchor="end" font-weight="normal" fill="#555" >7.5</text>
<line x1="238.50" y1="161.2" x2="238.50" y2="163.20" stroke="#444" stroke-width="0.5"/>
<text x="238.50" y="167.80" font-size="5.8" text-anchor="middle" font-weight="normal" fill="#666" >&#8722;5</text>
<line x1="280.70" y1="161.2" x2="280.70" y2="163.20" stroke="#444" stroke-width="0.5"/>
<text x="280.70" y="167.80" font-size="5.8" text-anchor="middle" font-weight="normal" fill="#666" >0</text>
<line x1="322.90" y1="161.2" x2="322.90" y2="163.20" stroke="#444" stroke-width="0.5"/>
<text x="322.90" y="167.80" font-size="5.8" text-anchor="middle" font-weight="normal" fill="#666" >5</text>
<rect x="391.8" y="34.4" width="147.60" height="127.90" fill="none" stroke="#bdbdbd" stroke-width="0.9"/>
<line x1="389.80" y1="156.80" x2="391.8" y2="156.80" stroke="#444" stroke-width="0.5"/>
<text x="389.40" y="158.80" font-size="5.8" text-anchor="end" font-weight="normal" fill="#555" >0.0</text>
<line x1="389.80" y1="124.80" x2="391.8" y2="124.80" stroke="#444" stroke-width="0.5"/>
<text x="389.40" y="126.80" font-size="5.8" text-anchor="end" font-weight="normal" fill="#555" >2.5</text>
<line x1="389.80" y1="92.80" x2="391.8" y2="92.80" stroke="#444" stroke-width="0.5"/>
<text x="389.40" y="94.80" font-size="5.8" text-anchor="end" font-weight="normal" fill="#555" >5.0</text>
<line x1="389.80" y1="60.80" x2="391.8" y2="60.80" stroke="#444" stroke-width="0.5"/>
<text x="389.40" y="62.80" font-size="5.8" text-anchor="end" font-weight="normal" fill="#555" >7.5</text>
<line x1="394.50" y1="162.3" x2="394.50" y2="164.30" stroke="#444" stroke-width="0.5"/>
<text x="394.50" y="168.90" font-size="5.8" text-anchor="middle" font-weight="normal" fill="#666" >&#8722;10</text>
<line x1="424.50" y1="162.3" x2="424.50" y2="164.30" stroke="#444" stroke-width="0.5"/>
<text x="424.50" y="168.90" font-size="5.8" text-anchor="middle" font-weight="normal" fill="#666" >&#8722;5</text>
<line x1="454.50" y1="162.3" x2="454.50" y2="164.30" stroke="#444" stroke-width="0.5"/>
<text x="454.50" y="168.90" font-size="5.8" text-anchor="middle" font-weight="normal" fill="#666" >0</text>
<line x1="484.50" y1="162.3" x2="484.50" y2="164.30" stroke="#444" stroke-width="0.5"/>
<text x="484.50" y="168.90" font-size="5.8" text-anchor="middle" font-weight="normal" fill="#666" >5</text>
<line x1="514.50" y1="162.3" x2="514.50" y2="164.30" stroke="#444" stroke-width="0.5"/>
<text x="514.50" y="168.90" font-size="5.8" text-anchor="middle" font-weight="normal" fill="#666" >10</text>
<text transform="translate(16.50,101.50) rotate(-90)" font-size="7" text-anchor="middle" fill="#111">&#8722;log<tspan font-size="4.6" dy="1.6">10</tspan><tspan dy="-1.6">PValue</tspan></text>
<text transform="translate(190.50,99.40) rotate(-90)" font-size="7" text-anchor="middle" fill="#111">&#8722;log<tspan font-size="4.6" dy="1.6">10</tspan><tspan dy="-1.6">PValue</tspan></text>
<text transform="translate(375.50,100.10) rotate(-90)" font-size="7" text-anchor="middle" fill="#111">&#8722;log<tspan font-size="4.6" dy="1.6">10</tspan><tspan dy="-1.6">PValue</tspan></text>
<text x="102.00" y="178.80" font-size="7" text-anchor="middle" fill="#222">log<tspan font-size="4.6" dy="1.6">2</tspan><tspan dy="-1.6">FC</tspan></text>
<text x="279.50" y="176.00" font-size="7" text-anchor="middle" fill="#222">log<tspan font-size="4.6" dy="1.6">2</tspan><tspan dy="-1.6">FC</tspan></text>
<text x="465.60" y="177.30" font-size="7" text-anchor="middle" fill="#222">log<tspan font-size="4.6" dy="1.6">2</tspan><tspan dy="-1.6">FC</tspan></text>
<circle cx="214.9" cy="183.0" r="1.2" fill="#0a72e0"/>
<text transform="translate(224.00,185.90) scale(0.88,1)" font-size="6.5" text-anchor="start" font-weight="normal" fill="#333" >Down-reg_lncRNA</text>
<circle cx="215.0" cy="194.3" r="1.2" fill="#b010e0"/>
<text transform="translate(224.00,196.60) scale(0.88,1)" font-size="6.5" text-anchor="start" font-weight="normal" fill="#333" >Down-reg_Prot</text>
<circle cx="307.4" cy="181.4" r="1.2" fill="#bebebe"/>
<text transform="translate(316.10,183.50) scale(0.9,1)" font-size="5.7" text-anchor="start" font-weight="normal" fill="#333" >Unchanged</text>
<circle cx="307.4" cy="191.6" r="1.2" fill="#ff1a10"/>
<text transform="translate(316.10,194.20) scale(0.9,1)" font-size="5.7" text-anchor="start" font-weight="normal" fill="#333" >Up-reg_lncRNA</text>
<circle cx="307.4" cy="202.1" r="1.2" fill="#7cf000"/>
<text transform="translate(316.10,204.50) scale(0.9,1)" font-size="5.7" text-anchor="start" font-weight="normal" fill="#333" >Up-reg_Prot</text>
<text transform="translate(13.20,221.80) scale(0.93,1)" font-size="24" text-anchor="start" font-weight="bold" fill="#000" stroke="#000" stroke-width="0.5">B</text>
<line x1="36.6" y1="213.0" x2="274.6" y2="213.0" stroke="#555" stroke-width="1.2"/>
<line x1="36.6" y1="222.2" x2="274.6" y2="222.2" stroke="#555" stroke-width="1.2"/>
<line x1="36.6" y1="249.4" x2="274.6" y2="249.4" stroke="#555" stroke-width="1.2"/>
<line x1="36.6" y1="258.4" x2="274.6" y2="258.4" stroke="#555" stroke-width="1.2"/>
<text transform="translate(38.50,219.90) scale(0.92,1)" font-size="7.2" text-anchor="start" font-weight="bold" fill="#000" stroke="#000" stroke-width="0.18">Up-regulated</text>
<text transform="translate(151.80,219.90) scale(0.92,1)" font-size="7.2" text-anchor="end" font-weight="bold" fill="#000" stroke="#000" stroke-width="0.18">NINF vs Control</text>
<text transform="translate(212.00,219.90) scale(0.92,1)" font-size="7.2" text-anchor="end" font-weight="bold" fill="#000" stroke="#000" stroke-width="0.18">INF vs Control</text>
<text transform="translate(272.50,219.90) scale(0.92,1)" font-size="7.2" text-anchor="end" font-weight="bold" fill="#000" stroke="#000" stroke-width="0.18">STEN vs Control</text>
<text transform="translate(38.50,229.10) scale(0.92,1)" font-size="7.2" text-anchor="start" font-weight="bold" fill="#000" stroke="#000" stroke-width="0.18">protein_coding</text>
<text transform="translate(151.80,229.10) scale(0.92,1)" font-size="7.2" text-anchor="end" font-weight="bold" fill="#000" stroke="#000" stroke-width="0.18">227</text>
<text transform="translate(212.00,229.10) scale(0.92,1)" font-size="7.2" text-anchor="end" font-weight="bold" fill="#000" stroke="#000" stroke-width="0.18">191</text>
<text transform="translate(272.50,229.10) scale(0.92,1)" font-size="7.2" text-anchor="end" font-weight="bold" fill="#000" stroke="#000" stroke-width="0.18">332</text>
<text transform="translate(38.50,238.20) scale(0.92,1)" font-size="7.2" text-anchor="start" font-weight="bold" fill="#000" stroke="#000" stroke-width="0.18">lncRNA</text>
<text transform="translate(151.80,238.20) scale(0.92,1)" font-size="7.2" text-anchor="end" font-weight="bold" fill="#000" stroke="#000" stroke-width="0.18">169</text>
<text transform="translate(212.00,238.20) scale(0.92,1)" font-size="7.2" text-anchor="end" font-weight="bold" fill="#000" stroke="#000" stroke-width="0.18">165</text>
<text transform="translate(272.50,238.20) scale(0.92,1)" font-size="7.2" text-anchor="end" font-weight="bold" fill="#000" stroke="#000" stroke-width="0.18">204</text>
<text transform="translate(38.50,247.30) scale(0.92,1)" font-size="7.2" text-anchor="start" font-weight="bold" fill="#000" stroke="#000" stroke-width="0.18">Others</text>
<text transform="translate(151.80,247.30) scale(0.92,1)" font-size="7.2" text-anchor="end" font-weight="bold" fill="#000" stroke="#000" stroke-width="0.18">62</text>
<text transform="translate(212.00,247.30) scale(0.92,1)" font-size="7.2" text-anchor="end" font-weight="bold" fill="#000" stroke="#000" stroke-width="0.18">62</text>
<text transform="translate(272.50,247.30) scale(0.92,1)" font-size="7.2" text-anchor="end" font-weight="bold" fill="#000" stroke="#000" stroke-width="0.18">62</text>
<text transform="translate(38.50,256.50) scale(0.92,1)" font-size="7.2" text-anchor="start" font-weight="bold" fill="#000" stroke="#000" stroke-width="0.18">Total</text>
<text transform="translate(151.80,256.50) scale(0.92,1)" font-size="7.2" text-anchor="end" font-weight="bold" fill="#000" stroke="#000" stroke-width="0.18">458</text>
<text transform="translate(212.00,256.50) scale(0.92,1)" font-size="7.2" text-anchor="end" font-weight="bold" fill="#000" stroke="#000" stroke-width="0.18">436</text>
<text transform="translate(272.50,256.50) scale(0.92,1)" font-size="7.2" text-anchor="end" font-weight="bold" fill="#000" stroke="#000" stroke-width="0.18">660</text>
<line x1="291.2" y1="212.2" x2="526.8" y2="212.2" stroke="#6a6a6a" stroke-width="1.4"/>
<line x1="291.2" y1="221.6" x2="526.8" y2="221.6" stroke="#6a6a6a" stroke-width="1.4"/>
<line x1="291.2" y1="248.0" x2="526.8" y2="248.0" stroke="#6a6a6a" stroke-width="1.4"/>
<line x1="291.2" y1="256.9" x2="526.8" y2="256.9" stroke="#6a6a6a" stroke-width="1.4"/>
<text transform="translate(293.10,219.00) scale(0.92,1)" font-size="7.2" text-anchor="start" font-weight="bold" fill="#000" stroke="#000" stroke-width="0.18">Down-regulated</text>
<text transform="translate(405.60,219.00) scale(0.92,1)" font-size="7.2" text-anchor="end" font-weight="bold" fill="#000" stroke="#000" stroke-width="0.18">NINF vs Control</text>
<text transform="translate(466.00,219.00) scale(0.92,1)" font-size="7.2" text-anchor="end" font-weight="bold" fill="#000" stroke="#000" stroke-width="0.18">INF vs Control</text>
<text transform="translate(525.40,219.00) scale(0.92,1)" font-size="7.2" text-anchor="end" font-weight="bold" fill="#000" stroke="#000" stroke-width="0.18">STEN vs Control</text>
<text transform="translate(293.10,228.60) scale(0.92,1)" font-size="7.2" text-anchor="start" font-weight="bold" fill="#000" stroke="#000" stroke-width="0.18">protein_coding</text>
<text transform="translate(405.60,228.60) scale(0.92,1)" font-size="7.2" text-anchor="end" font-weight="bold" fill="#000" stroke="#000" stroke-width="0.18">219</text>
<text transform="translate(466.00,228.60) scale(0.92,1)" font-size="7.2" text-anchor="end" font-weight="bold" fill="#000" stroke="#000" stroke-width="0.18">271</text>
<text transform="translate(525.40,228.60) scale(0.92,1)" font-size="7.2" text-anchor="end" font-weight="bold" fill="#000" stroke="#000" stroke-width="0.18">554</text>
<text transform="translate(293.10,237.30) scale(0.92,1)" font-size="7.2" text-anchor="start" font-weight="bold" fill="#000" stroke="#000" stroke-width="0.18">lncRNA</text>
<text transform="translate(405.60,237.30) scale(0.92,1)" font-size="7.2" text-anchor="end" font-weight="bold" fill="#000" stroke="#000" stroke-width="0.18">141</text>
<text transform="translate(466.00,237.30) scale(0.92,1)" font-size="7.2" text-anchor="end" font-weight="bold" fill="#000" stroke="#000" stroke-width="0.18">88</text>
<text transform="translate(525.40,237.30) scale(0.92,1)" font-size="7.2" text-anchor="end" font-weight="bold" fill="#000" stroke="#000" stroke-width="0.18">111</text>
<text transform="translate(293.10,245.80) scale(0.92,1)" font-size="7.2" text-anchor="start" font-weight="bold" fill="#000" stroke="#000" stroke-width="0.18">Others</text>
<text transform="translate(405.60,245.80) scale(0.92,1)" font-size="7.2" text-anchor="end" font-weight="bold" fill="#000" stroke="#000" stroke-width="0.18">57</text>
<text transform="translate(466.00,245.80) scale(0.92,1)" font-size="7.2" text-anchor="end" font-weight="bold" fill="#000" stroke="#000" stroke-width="0.18">57</text>
<text transform="translate(525.40,245.80) scale(0.92,1)" font-size="7.2" text-anchor="end" font-weight="bold" fill="#000" stroke="#000" stroke-width="0.18">57</text>
<text transform="translate(293.10,255.00) scale(0.92,1)" font-size="7.2" text-anchor="start" font-weight="bold" fill="#000" stroke="#000" stroke-width="0.18">Total</text>
<text transform="translate(405.60,255.00) scale(0.92,1)" font-size="7.2" text-anchor="end" font-weight="bold" fill="#000" stroke="#000" stroke-width="0.18">417</text>
<text transform="translate(466.00,255.00) scale(0.92,1)" font-size="7.2" text-anchor="end" font-weight="bold" fill="#000" stroke="#000" stroke-width="0.18">385</text>
<text transform="translate(525.40,255.00) scale(0.92,1)" font-size="7.2" text-anchor="end" font-weight="bold" fill="#000" stroke="#000" stroke-width="0.18">710</text>
<text transform="translate(12.60,301.20) scale(0.95,1)" font-size="24" text-anchor="start" font-weight="bold" fill="#000" stroke="#000" stroke-width="0.5">C</text>
<text x="107.30" y="300.10" font-size="14" text-anchor="start" font-weight="normal" fill="#000" stroke="#000" stroke-width="0.3">Up-Regulated Genes</text>
<defs><clipPath id="g1"><ellipse cx="141.8" cy="365.2" rx="44" ry="37.9" /></clipPath><clipPath id="o1"><ellipse cx="182.6" cy="365.7" rx="44" ry="37.9" /></clipPath></defs>
<ellipse cx="141.8" cy="365.2" rx="44" ry="37.9" fill="#9cd28a"/>
<ellipse cx="182.6" cy="365.7" rx="44" ry="37.9" fill="#fcd3b8"/>
<ellipse cx="163.2" cy="389.2" rx="44" ry="37.9" fill="#bed1f0"/>
<ellipse cx="182.6" cy="365.7" rx="44" ry="37.9" fill="#d8bc84" clip-path="url(#g1)"/>
<ellipse cx="163.2" cy="389.2" rx="44" ry="37.9" fill="#88beb3" clip-path="url(#g1)"/>
<ellipse cx="163.2" cy="389.2" rx="44" ry="37.9" fill="#c3c1d3" clip-path="url(#o1)"/>
<g clip-path="url(#g1)"><ellipse cx="163.2" cy="389.2" rx="44" ry="37.9" fill="#aeb5b6" clip-path="url(#o1)"/></g>
<text x="73.00" y="323.30" font-size="11.4" text-anchor="start" font-weight="normal" fill="#000" stroke="#000" stroke-width="0.15">NINF vs Control</text>
<text x="181.00" y="323.30" font-size="11.4" text-anchor="start" font-weight="normal" fill="#000" stroke="#000" stroke-width="0.15">INF vs Control</text>
<text x="117.00" y="439.00" font-size="11.4" text-anchor="start" font-weight="normal" fill="#000" stroke="#000" stroke-width="0.15">STEN vs Control</text>
<text x="120.70" y="353.60" font-size="11" text-anchor="middle" font-weight="normal" fill="#000" stroke="#000" stroke-width="0.18">291</text>
<text x="161.60" y="347.30" font-size="11" text-anchor="middle" font-weight="normal" fill="#000" stroke="#000" stroke-width="0.18">65</text>
<text x="198.70" y="353.60" font-size="11" text-anchor="middle" font-weight="normal" fill="#000" stroke="#000" stroke-width="0.18">263</text>
<text x="162.90" y="379.80" font-size="11" text-anchor="middle" font-weight="bold" fill="#000" stroke="#000" stroke-width="0.2">45</text>
<text x="130.90" y="390.60" font-size="11" text-anchor="middle" font-weight="normal" fill="#000" stroke="#000" stroke-width="0.18">57</text>
<text x="191.40" y="392.10" font-size="11" text-anchor="middle" font-weight="normal" fill="#000" stroke="#000" stroke-width="0.18">63</text>
<text x="159.10" y="418.20" font-size="11" text-anchor="middle" font-weight="normal" fill="#000" stroke="#000" stroke-width="0.18">495</text>
<text x="333.50" y="298.70" font-size="14" text-anchor="start" font-weight="normal" fill="#000" stroke="#000" stroke-width="0.3">Down-Regulated Genes</text>
<defs><clipPath id="g2"><ellipse cx="376.2" cy="363.3" rx="44" ry="37.9" /></clipPath><clipPath id="o2"><ellipse cx="417.2" cy="365.2" rx="44" ry="37.9" /></clipPath></defs>
<ellipse cx="376.2" cy="363.3" rx="44" ry="37.9" fill="#9cd28a"/>
<ellipse cx="417.2" cy="365.2" rx="44" ry="37.9" fill="#fcd3b8"/>
<ellipse cx="397.7" cy="388.6" rx="44" ry="37.9" fill="#bed1f0"/>
<ellipse cx="417.2" cy="365.2" rx="44" ry="37.9" fill="#d8bc84" clip-path="url(#g2)"/>
<ellipse cx="397.7" cy="388.6" rx="44" ry="37.9" fill="#88beb3" clip-path="url(#g2)"/>
<ellipse cx="397.7" cy="388.6" rx="44" ry="37.9" fill="#c3c1d3" clip-path="url(#o2)"/>
<g clip-path="url(#g2)"><ellipse cx="397.7" cy="388.6" rx="44" ry="37.9" fill="#aeb5b6" clip-path="url(#o2)"/></g>
<text x="307.40" y="322.30" font-size="11.4" text-anchor="start" font-weight="normal" fill="#000" stroke="#000" stroke-width="0.15">NINF vs Control</text>
<text x="416.00" y="321.60" font-size="11.4" text-anchor="start" font-weight="normal" fill="#000" stroke="#000" stroke-width="0.15">INF vs Control</text>
<text x="351.60" y="437.80" font-size="11.4" text-anchor="start" font-weight="normal" fill="#000" stroke="#000" stroke-width="0.15">STEN vs Control</text>
<text x="354.60" y="352.50" font-size="11" text-anchor="middle" font-weight="normal" fill="#000" stroke="#000" stroke-width="0.18">261</text>
<text x="396.00" y="346.20" font-size="11" text-anchor="middle" font-weight="normal" fill="#000" stroke="#000" stroke-width="0.18">62</text>
<text x="432.80" y="352.50" font-size="11" text-anchor="middle" font-weight="normal" fill="#000" stroke="#000" stroke-width="0.18">200</text>
<text x="397.10" y="377.90" font-size="11" text-anchor="middle" font-weight="bold" fill="#000" stroke="#000" stroke-width="0.2">39</text>
<text x="365.70" y="388.50" font-size="11" text-anchor="middle" font-weight="normal" fill="#000" stroke="#000" stroke-width="0.18">54</text>
<text x="425.70" y="389.60" font-size="11" text-anchor="middle" font-weight="normal" fill="#000" stroke="#000" stroke-width="0.18">85</text>
<text x="393.50" y="417.70" font-size="11" text-anchor="middle" font-weight="normal" fill="#000" stroke="#000" stroke-width="0.18">532</text>
<line x1="107.3" y1="301.9" x2="239.5" y2="301.9" stroke="#000" stroke-width="1.2"/>
<line x1="333.5" y1="301.0" x2="483.5" y2="301.0" stroke="#000" stroke-width="1.2"/>
</svg></body></html>
